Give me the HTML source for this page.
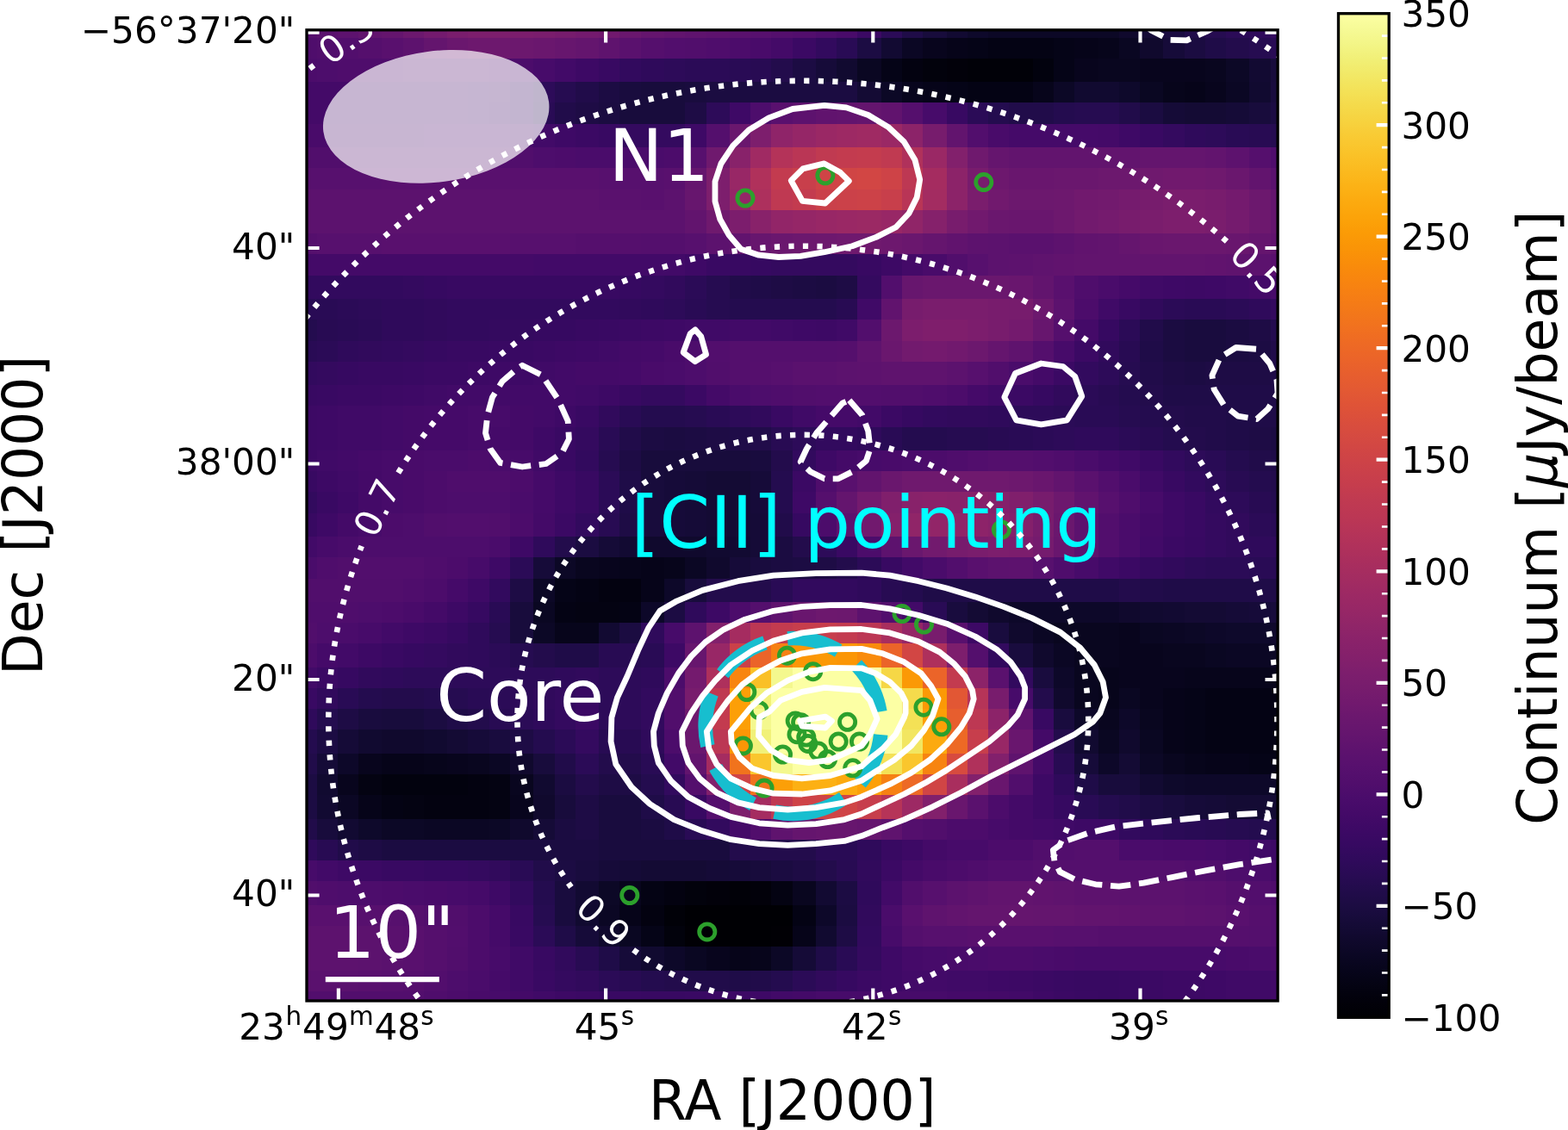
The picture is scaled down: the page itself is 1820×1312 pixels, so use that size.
<!DOCTYPE html>
<html lang="en"><head><meta charset="utf-8"><title>Continuum map</title>
<style>html,body{margin:0;padding:0;background:#fff}svg{display:block}text{font-family:"DejaVu Sans","Liberation Sans",sans-serif}</style></head><body>
<svg width="1820" height="1312" viewBox="0 0 1820 1312">
<rect width="1820" height="1312" fill="#fff"/>
<defs><clipPath id="ax"><rect x="356" y="34.8" width="1127.1" height="1127.2"/></clipPath>
<linearGradient id="cb" x1="0" y1="1" x2="0" y2="0"><stop offset="0.0000" stop-color="#000004"/><stop offset="0.0156" stop-color="#02010a"/><stop offset="0.0312" stop-color="#040312"/><stop offset="0.0469" stop-color="#07051b"/><stop offset="0.0625" stop-color="#0b0724"/><stop offset="0.0781" stop-color="#10092d"/><stop offset="0.0938" stop-color="#150b37"/><stop offset="0.1094" stop-color="#1b0c41"/><stop offset="0.1250" stop-color="#210c4a"/><stop offset="0.1406" stop-color="#280b53"/><stop offset="0.1562" stop-color="#2f0a5b"/><stop offset="0.1719" stop-color="#360961"/><stop offset="0.1875" stop-color="#3d0965"/><stop offset="0.2031" stop-color="#440a68"/><stop offset="0.2188" stop-color="#4a0c6b"/><stop offset="0.2344" stop-color="#510e6c"/><stop offset="0.2500" stop-color="#57106e"/><stop offset="0.2656" stop-color="#5d126e"/><stop offset="0.2812" stop-color="#64156e"/><stop offset="0.2969" stop-color="#6a176e"/><stop offset="0.3125" stop-color="#71196e"/><stop offset="0.3281" stop-color="#771c6d"/><stop offset="0.3438" stop-color="#7d1e6d"/><stop offset="0.3594" stop-color="#84206b"/><stop offset="0.3750" stop-color="#8a226a"/><stop offset="0.3906" stop-color="#902568"/><stop offset="0.4062" stop-color="#972766"/><stop offset="0.4219" stop-color="#9d2964"/><stop offset="0.4375" stop-color="#a32c61"/><stop offset="0.4531" stop-color="#a92e5e"/><stop offset="0.4688" stop-color="#b0315b"/><stop offset="0.4844" stop-color="#b63458"/><stop offset="0.5000" stop-color="#bc3754"/><stop offset="0.5156" stop-color="#c03a51"/><stop offset="0.5312" stop-color="#c63d4d"/><stop offset="0.5469" stop-color="#cb4149"/><stop offset="0.5625" stop-color="#d04545"/><stop offset="0.5781" stop-color="#d54a41"/><stop offset="0.5938" stop-color="#da4e3c"/><stop offset="0.6094" stop-color="#df5337"/><stop offset="0.6250" stop-color="#e35933"/><stop offset="0.6406" stop-color="#e75e2e"/><stop offset="0.6562" stop-color="#eb6429"/><stop offset="0.6719" stop-color="#ee6a24"/><stop offset="0.6875" stop-color="#f1711f"/><stop offset="0.7031" stop-color="#f37819"/><stop offset="0.7188" stop-color="#f67e14"/><stop offset="0.7344" stop-color="#f8850f"/><stop offset="0.7500" stop-color="#f98c0a"/><stop offset="0.7656" stop-color="#fa9407"/><stop offset="0.7812" stop-color="#fb9b06"/><stop offset="0.7969" stop-color="#fca309"/><stop offset="0.8125" stop-color="#fcaa0f"/><stop offset="0.8281" stop-color="#fcb216"/><stop offset="0.8438" stop-color="#fbba1f"/><stop offset="0.8594" stop-color="#fac228"/><stop offset="0.8750" stop-color="#f9c932"/><stop offset="0.8906" stop-color="#f7d13d"/><stop offset="0.9062" stop-color="#f5d949"/><stop offset="0.9219" stop-color="#f4e156"/><stop offset="0.9375" stop-color="#f2e865"/><stop offset="0.9531" stop-color="#f1ef75"/><stop offset="0.9688" stop-color="#f3f586"/><stop offset="0.9844" stop-color="#f6fa96"/><stop offset="1.0000" stop-color="#fcffa4"/></linearGradient></defs>
<g clip-path="url(#ax)">
<g shape-rendering="crispEdges">
<rect x="340.26" y="19.38" width="27.90" height="24.87" fill="#550f6d"/>
<rect x="367.56" y="19.38" width="24.87" height="24.87" fill="#5a116e"/>
<rect x="391.82" y="19.38" width="24.87" height="24.87" fill="#5d126e"/>
<rect x="416.09" y="19.38" width="27.90" height="24.87" fill="#62146e"/>
<rect x="443.39" y="19.38" width="24.87" height="24.87" fill="#65156e"/>
<rect x="467.66" y="19.38" width="24.87" height="24.87" fill="#6c186e"/>
<rect x="491.92" y="19.38" width="27.90" height="24.87" fill="#741a6e"/>
<rect x="519.22" y="19.38" width="24.87" height="24.87" fill="#7a1d6d"/>
<rect x="543.49" y="19.38" width="49.13" height="24.87" fill="#7d1e6d"/>
<rect x="592.02" y="19.38" width="27.90" height="24.87" fill="#7c1d6d"/>
<rect x="619.32" y="19.38" width="24.87" height="24.87" fill="#7a1d6d"/>
<rect x="643.59" y="19.38" width="24.87" height="24.87" fill="#771c6d"/>
<rect x="667.86" y="19.38" width="27.90" height="24.87" fill="#741a6e"/>
<rect x="695.16" y="19.38" width="24.87" height="24.87" fill="#71196e"/>
<rect x="719.42" y="19.38" width="24.87" height="24.87" fill="#6a176e"/>
<rect x="743.69" y="19.38" width="27.90" height="24.87" fill="#65156e"/>
<rect x="770.99" y="19.38" width="24.87" height="24.87" fill="#62146e"/>
<rect x="795.26" y="19.38" width="24.87" height="24.87" fill="#5f136e"/>
<rect x="819.52" y="19.38" width="27.58" height="24.87" fill="#5d126e"/>
<rect x="846.50" y="19.38" width="25.19" height="24.87" fill="#5a116e"/>
<rect x="871.09" y="19.38" width="24.87" height="24.87" fill="#57106e"/>
<rect x="895.36" y="19.38" width="24.87" height="24.87" fill="#540f6d"/>
<rect x="919.62" y="19.38" width="27.90" height="24.87" fill="#520e6d"/>
<rect x="946.92" y="19.38" width="24.87" height="24.87" fill="#4d0d6c"/>
<rect x="971.19" y="19.38" width="24.87" height="24.87" fill="#490b6a"/>
<rect x="995.46" y="19.38" width="27.90" height="24.87" fill="#3b0964"/>
<rect x="1022.76" y="19.38" width="24.87" height="24.87" fill="#2b0b57"/>
<rect x="1047.02" y="19.38" width="24.87" height="24.87" fill="#1f0c48"/>
<rect x="1071.29" y="19.38" width="27.90" height="24.87" fill="#180c3c"/>
<rect x="1098.59" y="19.38" width="24.87" height="24.87" fill="#120a32"/>
<rect x="1122.86" y="19.38" width="24.87" height="24.87" fill="#0e092b"/>
<rect x="1147.12" y="19.38" width="152.27" height="24.87" fill="#0c0826"/>
<rect x="1298.79" y="19.38" width="24.87" height="24.87" fill="#10092d"/>
<rect x="1323.06" y="19.38" width="27.90" height="24.87" fill="#150b37"/>
<rect x="1350.36" y="19.38" width="24.87" height="24.87" fill="#1b0c41"/>
<rect x="1374.62" y="19.38" width="24.87" height="24.87" fill="#210c4a"/>
<rect x="1398.89" y="19.38" width="24.87" height="24.87" fill="#260c51"/>
<rect x="1423.16" y="19.38" width="27.90" height="24.87" fill="#2b0b57"/>
<rect x="1450.46" y="19.38" width="24.87" height="24.87" fill="#2f0a5b"/>
<rect x="1474.72" y="19.38" width="24.87" height="24.87" fill="#340a5f"/>
<rect x="340.26" y="43.65" width="27.90" height="24.87" fill="#4f0d6c"/>
<rect x="367.56" y="43.65" width="24.87" height="24.87" fill="#510e6c"/>
<rect x="391.82" y="43.65" width="24.87" height="24.87" fill="#520e6d"/>
<rect x="416.09" y="43.65" width="27.90" height="24.87" fill="#550f6d"/>
<rect x="443.39" y="43.65" width="24.87" height="24.87" fill="#59106e"/>
<rect x="467.66" y="43.65" width="24.87" height="24.87" fill="#5d126e"/>
<rect x="491.92" y="43.65" width="27.90" height="24.87" fill="#64156e"/>
<rect x="519.22" y="43.65" width="24.87" height="24.87" fill="#6a176e"/>
<rect x="543.49" y="43.65" width="49.13" height="24.87" fill="#6d186e"/>
<rect x="592.02" y="43.65" width="27.90" height="24.87" fill="#6c186e"/>
<rect x="619.32" y="43.65" width="24.87" height="24.87" fill="#6a176e"/>
<rect x="643.59" y="43.65" width="24.87" height="24.87" fill="#67166e"/>
<rect x="667.86" y="43.65" width="27.90" height="24.87" fill="#64156e"/>
<rect x="695.16" y="43.65" width="24.87" height="24.87" fill="#5f136e"/>
<rect x="719.42" y="43.65" width="24.87" height="24.87" fill="#5a116e"/>
<rect x="743.69" y="43.65" width="27.90" height="24.87" fill="#550f6d"/>
<rect x="770.99" y="43.65" width="24.87" height="24.87" fill="#520e6d"/>
<rect x="795.26" y="43.65" width="24.87" height="24.87" fill="#510e6c"/>
<rect x="819.52" y="43.65" width="27.58" height="24.87" fill="#4f0d6c"/>
<rect x="846.50" y="43.65" width="25.19" height="24.87" fill="#4c0c6b"/>
<rect x="871.09" y="43.65" width="24.87" height="24.87" fill="#490b6a"/>
<rect x="895.36" y="43.65" width="24.87" height="24.87" fill="#440a68"/>
<rect x="919.62" y="43.65" width="27.90" height="24.87" fill="#3b0964"/>
<rect x="946.92" y="43.65" width="24.87" height="24.87" fill="#320a5e"/>
<rect x="971.19" y="43.65" width="24.87" height="24.87" fill="#290b55"/>
<rect x="995.46" y="43.65" width="27.90" height="24.87" fill="#1c0c43"/>
<rect x="1022.76" y="43.65" width="24.87" height="24.87" fill="#120a32"/>
<rect x="1047.02" y="43.65" width="24.87" height="24.87" fill="#0b0724"/>
<rect x="1071.29" y="43.65" width="27.90" height="24.87" fill="#08051d"/>
<rect x="1098.59" y="43.65" width="24.87" height="24.87" fill="#060419"/>
<rect x="1122.86" y="43.65" width="24.87" height="24.87" fill="#050417"/>
<rect x="1147.12" y="43.65" width="76.43" height="24.87" fill="#040314"/>
<rect x="1222.96" y="43.65" width="24.87" height="24.87" fill="#050417"/>
<rect x="1247.22" y="43.65" width="27.90" height="24.87" fill="#060419"/>
<rect x="1274.52" y="43.65" width="24.87" height="24.87" fill="#07051b"/>
<rect x="1298.79" y="43.65" width="24.87" height="24.87" fill="#0a0722"/>
<rect x="1323.06" y="43.65" width="27.90" height="24.87" fill="#10092d"/>
<rect x="1350.36" y="43.65" width="24.87" height="24.87" fill="#160b39"/>
<rect x="1374.62" y="43.65" width="24.87" height="24.87" fill="#1b0c41"/>
<rect x="1398.89" y="43.65" width="24.87" height="24.87" fill="#1f0c48"/>
<rect x="1423.16" y="43.65" width="27.90" height="24.87" fill="#230c4c"/>
<rect x="1450.46" y="43.65" width="24.87" height="24.87" fill="#260c51"/>
<rect x="1474.72" y="43.65" width="24.87" height="24.87" fill="#290b55"/>
<rect x="340.26" y="67.91" width="27.90" height="27.90" fill="#4c0c6b"/>
<rect x="367.56" y="67.91" width="24.87" height="27.90" fill="#4d0d6c"/>
<rect x="391.82" y="67.91" width="76.43" height="27.90" fill="#4f0d6c"/>
<rect x="467.66" y="67.91" width="100.70" height="27.90" fill="#510e6c"/>
<rect x="567.76" y="67.91" width="24.87" height="27.90" fill="#4f0d6c"/>
<rect x="592.02" y="67.91" width="27.90" height="27.90" fill="#4c0c6b"/>
<rect x="619.32" y="67.91" width="24.87" height="27.90" fill="#470b6a"/>
<rect x="643.59" y="67.91" width="24.87" height="27.90" fill="#420a68"/>
<rect x="667.86" y="67.91" width="27.90" height="27.90" fill="#3d0965"/>
<rect x="695.16" y="67.91" width="24.87" height="27.90" fill="#380962"/>
<rect x="719.42" y="67.91" width="24.87" height="27.90" fill="#320a5e"/>
<rect x="743.69" y="67.91" width="27.90" height="27.90" fill="#2f0a5b"/>
<rect x="770.99" y="67.91" width="24.87" height="27.90" fill="#2d0b59"/>
<rect x="795.26" y="67.91" width="51.84" height="27.90" fill="#2b0b57"/>
<rect x="846.50" y="67.91" width="25.19" height="27.90" fill="#290b55"/>
<rect x="871.09" y="67.91" width="24.87" height="27.90" fill="#280b53"/>
<rect x="895.36" y="67.91" width="24.87" height="27.90" fill="#230c4c"/>
<rect x="919.62" y="67.91" width="27.90" height="27.90" fill="#1c0c43"/>
<rect x="946.92" y="67.91" width="24.87" height="27.90" fill="#160b39"/>
<rect x="971.19" y="67.91" width="24.87" height="27.90" fill="#110a30"/>
<rect x="995.46" y="67.91" width="27.90" height="27.90" fill="#0a0722"/>
<rect x="1022.76" y="67.91" width="24.87" height="27.90" fill="#050417"/>
<rect x="1047.02" y="67.91" width="24.87" height="27.90" fill="#030210"/>
<rect x="1071.29" y="67.91" width="27.90" height="27.90" fill="#02020c"/>
<rect x="1098.59" y="67.91" width="24.87" height="27.90" fill="#02010a"/>
<rect x="1122.86" y="67.91" width="76.43" height="27.90" fill="#010108"/>
<rect x="1198.69" y="67.91" width="24.87" height="27.90" fill="#02020e"/>
<rect x="1222.96" y="67.91" width="24.87" height="27.90" fill="#050417"/>
<rect x="1247.22" y="67.91" width="27.90" height="27.90" fill="#08051d"/>
<rect x="1274.52" y="67.91" width="49.13" height="27.90" fill="#09061f"/>
<rect x="1323.06" y="67.91" width="76.43" height="27.90" fill="#08051d"/>
<rect x="1398.89" y="67.91" width="24.87" height="27.90" fill="#09061f"/>
<rect x="1423.16" y="67.91" width="27.90" height="27.90" fill="#0c0826"/>
<rect x="1450.46" y="67.91" width="24.87" height="27.90" fill="#120a32"/>
<rect x="1474.72" y="67.91" width="24.87" height="27.90" fill="#180c3c"/>
<rect x="340.26" y="95.21" width="203.83" height="24.87" fill="#440a68"/>
<rect x="543.49" y="95.21" width="24.87" height="24.87" fill="#420a68"/>
<rect x="567.76" y="95.21" width="24.87" height="24.87" fill="#400a67"/>
<rect x="592.02" y="95.21" width="27.90" height="24.87" fill="#380962"/>
<rect x="619.32" y="95.21" width="24.87" height="24.87" fill="#2d0b59"/>
<rect x="643.59" y="95.21" width="24.87" height="24.87" fill="#260c51"/>
<rect x="667.86" y="95.21" width="27.90" height="24.87" fill="#210c4a"/>
<rect x="695.16" y="95.21" width="24.87" height="24.87" fill="#1c0c43"/>
<rect x="719.42" y="95.21" width="24.87" height="24.87" fill="#190c3e"/>
<rect x="743.69" y="95.21" width="52.17" height="24.87" fill="#180c3c"/>
<rect x="795.26" y="95.21" width="24.87" height="24.87" fill="#190c3e"/>
<rect x="819.52" y="95.21" width="176.53" height="24.87" fill="#1b0c41"/>
<rect x="995.46" y="95.21" width="27.90" height="24.87" fill="#140b34"/>
<rect x="1022.76" y="95.21" width="24.87" height="24.87" fill="#0c0826"/>
<rect x="1047.02" y="95.21" width="24.87" height="24.87" fill="#08051d"/>
<rect x="1071.29" y="95.21" width="27.90" height="24.87" fill="#060419"/>
<rect x="1098.59" y="95.21" width="24.87" height="24.87" fill="#050417"/>
<rect x="1122.86" y="95.21" width="76.43" height="24.87" fill="#040314"/>
<rect x="1198.69" y="95.21" width="24.87" height="24.87" fill="#07051b"/>
<rect x="1222.96" y="95.21" width="24.87" height="24.87" fill="#0c0826"/>
<rect x="1247.22" y="95.21" width="52.17" height="24.87" fill="#110a30"/>
<rect x="1298.79" y="95.21" width="24.87" height="24.87" fill="#0e092b"/>
<rect x="1323.06" y="95.21" width="27.90" height="24.87" fill="#0a0722"/>
<rect x="1350.36" y="95.21" width="24.87" height="24.87" fill="#07051b"/>
<rect x="1374.62" y="95.21" width="24.87" height="24.87" fill="#060419"/>
<rect x="1398.89" y="95.21" width="24.87" height="24.87" fill="#08051d"/>
<rect x="1423.16" y="95.21" width="27.90" height="24.87" fill="#0b0724"/>
<rect x="1450.46" y="95.21" width="24.87" height="24.87" fill="#110a30"/>
<rect x="1474.72" y="95.21" width="24.87" height="24.87" fill="#190c3e"/>
<rect x="340.26" y="119.48" width="203.83" height="24.87" fill="#440a68"/>
<rect x="543.49" y="119.48" width="24.87" height="24.87" fill="#420a68"/>
<rect x="567.76" y="119.48" width="24.87" height="24.87" fill="#3e0966"/>
<rect x="592.02" y="119.48" width="27.90" height="24.87" fill="#360961"/>
<rect x="619.32" y="119.48" width="24.87" height="24.87" fill="#290b55"/>
<rect x="643.59" y="119.48" width="24.87" height="24.87" fill="#210c4a"/>
<rect x="667.86" y="119.48" width="27.90" height="24.87" fill="#1e0c45"/>
<rect x="695.16" y="119.48" width="24.87" height="24.87" fill="#1b0c41"/>
<rect x="719.42" y="119.48" width="76.43" height="24.87" fill="#180c3c"/>
<rect x="795.26" y="119.48" width="24.87" height="24.87" fill="#1e0c45"/>
<rect x="819.52" y="119.48" width="27.58" height="24.87" fill="#2d0b59"/>
<rect x="846.50" y="119.48" width="25.19" height="24.87" fill="#3e0966"/>
<rect x="871.09" y="119.48" width="24.87" height="24.87" fill="#4d0d6c"/>
<rect x="895.36" y="119.48" width="24.87" height="24.87" fill="#59106e"/>
<rect x="919.62" y="119.48" width="27.90" height="24.87" fill="#5d126e"/>
<rect x="946.92" y="119.48" width="24.87" height="24.87" fill="#61136e"/>
<rect x="971.19" y="119.48" width="24.87" height="24.87" fill="#62146e"/>
<rect x="995.46" y="119.48" width="27.90" height="24.87" fill="#64156e"/>
<rect x="1022.76" y="119.48" width="24.87" height="24.87" fill="#61136e"/>
<rect x="1047.02" y="119.48" width="24.87" height="24.87" fill="#550f6d"/>
<rect x="1071.29" y="119.48" width="27.90" height="24.87" fill="#470b6a"/>
<rect x="1098.59" y="119.48" width="24.87" height="24.87" fill="#380962"/>
<rect x="1122.86" y="119.48" width="24.87" height="24.87" fill="#2b0b57"/>
<rect x="1147.12" y="119.48" width="24.87" height="24.87" fill="#240c4f"/>
<rect x="1171.39" y="119.48" width="52.17" height="24.87" fill="#210c4a"/>
<rect x="1222.96" y="119.48" width="24.87" height="24.87" fill="#240c4f"/>
<rect x="1247.22" y="119.48" width="52.17" height="24.87" fill="#260c51"/>
<rect x="1298.79" y="119.48" width="24.87" height="24.87" fill="#210c4a"/>
<rect x="1323.06" y="119.48" width="27.90" height="24.87" fill="#1b0c41"/>
<rect x="1350.36" y="119.48" width="24.87" height="24.87" fill="#150b37"/>
<rect x="1374.62" y="119.48" width="49.13" height="24.87" fill="#140b34"/>
<rect x="1423.16" y="119.48" width="27.90" height="24.87" fill="#150b37"/>
<rect x="1450.46" y="119.48" width="24.87" height="24.87" fill="#180c3c"/>
<rect x="1474.72" y="119.48" width="24.87" height="24.87" fill="#1c0c43"/>
<rect x="340.26" y="143.75" width="152.27" height="27.90" fill="#490b6a"/>
<rect x="491.92" y="143.75" width="52.17" height="27.90" fill="#4a0c6b"/>
<rect x="543.49" y="143.75" width="24.87" height="27.90" fill="#4c0c6b"/>
<rect x="567.76" y="143.75" width="24.87" height="27.90" fill="#4a0c6b"/>
<rect x="592.02" y="143.75" width="27.90" height="27.90" fill="#470b6a"/>
<rect x="619.32" y="143.75" width="24.87" height="27.90" fill="#420a68"/>
<rect x="643.59" y="143.75" width="24.87" height="27.90" fill="#3e0966"/>
<rect x="667.86" y="143.75" width="27.90" height="27.90" fill="#3b0964"/>
<rect x="695.16" y="143.75" width="24.87" height="27.90" fill="#380962"/>
<rect x="719.42" y="143.75" width="76.43" height="27.90" fill="#340a5f"/>
<rect x="795.26" y="143.75" width="24.87" height="27.90" fill="#3e0966"/>
<rect x="819.52" y="143.75" width="27.58" height="27.90" fill="#540f6d"/>
<rect x="846.50" y="143.75" width="25.19" height="27.90" fill="#6a176e"/>
<rect x="871.09" y="143.75" width="24.87" height="27.90" fill="#7d1e6d"/>
<rect x="895.36" y="143.75" width="24.87" height="27.90" fill="#8f2469"/>
<rect x="919.62" y="143.75" width="27.90" height="27.90" fill="#952667"/>
<rect x="946.92" y="143.75" width="24.87" height="27.90" fill="#9a2865"/>
<rect x="971.19" y="143.75" width="24.87" height="27.90" fill="#9d2964"/>
<rect x="995.46" y="143.75" width="27.90" height="27.90" fill="#9f2a63"/>
<rect x="1022.76" y="143.75" width="24.87" height="27.90" fill="#9a2865"/>
<rect x="1047.02" y="143.75" width="24.87" height="27.90" fill="#8c2369"/>
<rect x="1071.29" y="143.75" width="27.90" height="27.90" fill="#771c6d"/>
<rect x="1098.59" y="143.75" width="24.87" height="27.90" fill="#62146e"/>
<rect x="1122.86" y="143.75" width="24.87" height="27.90" fill="#520e6d"/>
<rect x="1147.12" y="143.75" width="24.87" height="27.90" fill="#490b6a"/>
<rect x="1171.39" y="143.75" width="103.73" height="27.90" fill="#450a69"/>
<rect x="1274.52" y="143.75" width="24.87" height="27.90" fill="#440a68"/>
<rect x="1298.79" y="143.75" width="24.87" height="27.90" fill="#3e0966"/>
<rect x="1323.06" y="143.75" width="27.90" height="27.90" fill="#390963"/>
<rect x="1350.36" y="143.75" width="24.87" height="27.90" fill="#340a5f"/>
<rect x="1374.62" y="143.75" width="24.87" height="27.90" fill="#2f0a5b"/>
<rect x="1398.89" y="143.75" width="24.87" height="27.90" fill="#2d0b59"/>
<rect x="1423.16" y="143.75" width="27.90" height="27.90" fill="#290b55"/>
<rect x="1450.46" y="143.75" width="24.87" height="27.90" fill="#280b53"/>
<rect x="1474.72" y="143.75" width="24.87" height="27.90" fill="#260c51"/>
<rect x="340.26" y="171.05" width="179.57" height="24.87" fill="#510e6c"/>
<rect x="519.22" y="171.05" width="73.40" height="24.87" fill="#520e6d"/>
<rect x="592.02" y="171.05" width="27.90" height="24.87" fill="#510e6c"/>
<rect x="619.32" y="171.05" width="24.87" height="24.87" fill="#4d0d6c"/>
<rect x="643.59" y="171.05" width="24.87" height="24.87" fill="#4c0c6b"/>
<rect x="667.86" y="171.05" width="103.73" height="24.87" fill="#4a0c6b"/>
<rect x="770.99" y="171.05" width="24.87" height="24.87" fill="#4c0c6b"/>
<rect x="795.26" y="171.05" width="24.87" height="24.87" fill="#57106e"/>
<rect x="819.52" y="171.05" width="27.58" height="24.87" fill="#6f196e"/>
<rect x="846.50" y="171.05" width="25.19" height="24.87" fill="#88226a"/>
<rect x="871.09" y="171.05" width="24.87" height="24.87" fill="#a02a63"/>
<rect x="895.36" y="171.05" width="24.87" height="24.87" fill="#b43359"/>
<rect x="919.62" y="171.05" width="27.90" height="24.87" fill="#ba3655"/>
<rect x="946.92" y="171.05" width="24.87" height="24.87" fill="#c03a51"/>
<rect x="971.19" y="171.05" width="24.87" height="24.87" fill="#c33b4f"/>
<rect x="995.46" y="171.05" width="27.90" height="24.87" fill="#c43c4e"/>
<rect x="1022.76" y="171.05" width="24.87" height="24.87" fill="#c03a51"/>
<rect x="1047.02" y="171.05" width="24.87" height="24.87" fill="#b0315b"/>
<rect x="1071.29" y="171.05" width="27.90" height="24.87" fill="#9a2865"/>
<rect x="1098.59" y="171.05" width="24.87" height="24.87" fill="#82206c"/>
<rect x="1122.86" y="171.05" width="24.87" height="24.87" fill="#6f196e"/>
<rect x="1147.12" y="171.05" width="24.87" height="24.87" fill="#65156e"/>
<rect x="1171.39" y="171.05" width="152.27" height="24.87" fill="#62146e"/>
<rect x="1323.06" y="171.05" width="76.43" height="24.87" fill="#64156e"/>
<rect x="1398.89" y="171.05" width="24.87" height="24.87" fill="#62146e"/>
<rect x="1423.16" y="171.05" width="27.90" height="24.87" fill="#5d126e"/>
<rect x="1450.46" y="171.05" width="24.87" height="24.87" fill="#550f6d"/>
<rect x="1474.72" y="171.05" width="24.87" height="24.87" fill="#4f0d6c"/>
<rect x="340.26" y="195.31" width="103.73" height="24.87" fill="#57106e"/>
<rect x="443.39" y="195.31" width="252.37" height="24.87" fill="#59106e"/>
<rect x="695.16" y="195.31" width="76.43" height="24.87" fill="#57106e"/>
<rect x="770.99" y="195.31" width="24.87" height="24.87" fill="#59106e"/>
<rect x="795.26" y="195.31" width="24.87" height="24.87" fill="#65156e"/>
<rect x="819.52" y="195.31" width="27.58" height="24.87" fill="#7d1e6d"/>
<rect x="846.50" y="195.31" width="25.19" height="24.87" fill="#982766"/>
<rect x="871.09" y="195.31" width="24.87" height="24.87" fill="#b0315b"/>
<rect x="895.36" y="195.31" width="24.87" height="24.87" fill="#c33b4f"/>
<rect x="919.62" y="195.31" width="27.90" height="24.87" fill="#c83f4b"/>
<rect x="946.92" y="195.31" width="24.87" height="24.87" fill="#cf4446"/>
<rect x="971.19" y="195.31" width="24.87" height="24.87" fill="#d04545"/>
<rect x="995.46" y="195.31" width="27.90" height="24.87" fill="#d24644"/>
<rect x="1022.76" y="195.31" width="24.87" height="24.87" fill="#ce4347"/>
<rect x="1047.02" y="195.31" width="24.87" height="24.87" fill="#bd3853"/>
<rect x="1071.29" y="195.31" width="27.90" height="24.87" fill="#a52c60"/>
<rect x="1098.59" y="195.31" width="24.87" height="24.87" fill="#8c2369"/>
<rect x="1122.86" y="195.31" width="24.87" height="24.87" fill="#781c6d"/>
<rect x="1147.12" y="195.31" width="24.87" height="24.87" fill="#6d186e"/>
<rect x="1171.39" y="195.31" width="52.17" height="24.87" fill="#69166e"/>
<rect x="1222.96" y="195.31" width="52.17" height="24.87" fill="#6a176e"/>
<rect x="1274.52" y="195.31" width="49.13" height="24.87" fill="#6c186e"/>
<rect x="1323.06" y="195.31" width="27.90" height="24.87" fill="#6f196e"/>
<rect x="1350.36" y="195.31" width="49.13" height="24.87" fill="#71196e"/>
<rect x="1398.89" y="195.31" width="24.87" height="24.87" fill="#6f196e"/>
<rect x="1423.16" y="195.31" width="27.90" height="24.87" fill="#6a176e"/>
<rect x="1450.46" y="195.31" width="24.87" height="24.87" fill="#62146e"/>
<rect x="1474.72" y="195.31" width="24.87" height="24.87" fill="#5a116e"/>
<rect x="340.26" y="219.58" width="355.50" height="24.87" fill="#5c126e"/>
<rect x="695.16" y="219.58" width="49.13" height="24.87" fill="#5a116e"/>
<rect x="743.69" y="219.58" width="27.90" height="24.87" fill="#59106e"/>
<rect x="770.99" y="219.58" width="24.87" height="24.87" fill="#5c126e"/>
<rect x="795.26" y="219.58" width="24.87" height="24.87" fill="#67166e"/>
<rect x="819.52" y="219.58" width="27.58" height="24.87" fill="#7d1e6d"/>
<rect x="846.50" y="219.58" width="25.19" height="24.87" fill="#952667"/>
<rect x="871.09" y="219.58" width="24.87" height="24.87" fill="#ad305d"/>
<rect x="895.36" y="219.58" width="24.87" height="24.87" fill="#bf3952"/>
<rect x="919.62" y="219.58" width="27.90" height="24.87" fill="#c33b4f"/>
<rect x="946.92" y="219.58" width="24.87" height="24.87" fill="#ca404a"/>
<rect x="971.19" y="219.58" width="24.87" height="24.87" fill="#cb4149"/>
<rect x="995.46" y="219.58" width="27.90" height="24.87" fill="#cc4248"/>
<rect x="1022.76" y="219.58" width="24.87" height="24.87" fill="#c83f4b"/>
<rect x="1047.02" y="219.58" width="24.87" height="24.87" fill="#b93556"/>
<rect x="1071.29" y="219.58" width="27.90" height="24.87" fill="#a32c61"/>
<rect x="1098.59" y="219.58" width="24.87" height="24.87" fill="#8c2369"/>
<rect x="1122.86" y="219.58" width="24.87" height="24.87" fill="#7a1d6d"/>
<rect x="1147.12" y="219.58" width="24.87" height="24.87" fill="#71196e"/>
<rect x="1171.39" y="219.58" width="52.17" height="24.87" fill="#6c186e"/>
<rect x="1222.96" y="219.58" width="24.87" height="24.87" fill="#6d186e"/>
<rect x="1247.22" y="219.58" width="27.90" height="24.87" fill="#71196e"/>
<rect x="1274.52" y="219.58" width="24.87" height="24.87" fill="#721a6e"/>
<rect x="1298.79" y="219.58" width="24.87" height="24.87" fill="#751b6e"/>
<rect x="1323.06" y="219.58" width="27.90" height="24.87" fill="#771c6d"/>
<rect x="1350.36" y="219.58" width="49.13" height="24.87" fill="#7a1d6d"/>
<rect x="1398.89" y="219.58" width="24.87" height="24.87" fill="#781c6d"/>
<rect x="1423.16" y="219.58" width="27.90" height="24.87" fill="#741a6e"/>
<rect x="1450.46" y="219.58" width="24.87" height="24.87" fill="#6c186e"/>
<rect x="1474.72" y="219.58" width="24.87" height="24.87" fill="#64156e"/>
<rect x="340.26" y="243.85" width="455.60" height="27.90" fill="#5c126e"/>
<rect x="795.26" y="243.85" width="24.87" height="27.90" fill="#62146e"/>
<rect x="819.52" y="243.85" width="27.58" height="27.90" fill="#6f196e"/>
<rect x="846.50" y="243.85" width="25.19" height="27.90" fill="#7c1d6d"/>
<rect x="871.09" y="243.85" width="24.87" height="27.90" fill="#88226a"/>
<rect x="895.36" y="243.85" width="24.87" height="27.90" fill="#922568"/>
<rect x="919.62" y="243.85" width="27.90" height="27.90" fill="#952667"/>
<rect x="946.92" y="243.85" width="24.87" height="27.90" fill="#982766"/>
<rect x="971.19" y="243.85" width="24.87" height="27.90" fill="#9a2865"/>
<rect x="995.46" y="243.85" width="27.90" height="27.90" fill="#9b2964"/>
<rect x="1022.76" y="243.85" width="24.87" height="27.90" fill="#982766"/>
<rect x="1047.02" y="243.85" width="24.87" height="27.90" fill="#902568"/>
<rect x="1071.29" y="243.85" width="27.90" height="27.90" fill="#85216b"/>
<rect x="1098.59" y="243.85" width="24.87" height="27.90" fill="#781c6d"/>
<rect x="1122.86" y="243.85" width="24.87" height="27.90" fill="#71196e"/>
<rect x="1147.12" y="243.85" width="24.87" height="27.90" fill="#6a176e"/>
<rect x="1171.39" y="243.85" width="52.17" height="27.90" fill="#69166e"/>
<rect x="1222.96" y="243.85" width="24.87" height="27.90" fill="#6d186e"/>
<rect x="1247.22" y="243.85" width="27.90" height="27.90" fill="#721a6e"/>
<rect x="1274.52" y="243.85" width="24.87" height="27.90" fill="#751b6e"/>
<rect x="1298.79" y="243.85" width="24.87" height="27.90" fill="#781c6d"/>
<rect x="1323.06" y="243.85" width="27.90" height="27.90" fill="#7a1d6d"/>
<rect x="1350.36" y="243.85" width="49.13" height="27.90" fill="#7d1e6d"/>
<rect x="1398.89" y="243.85" width="24.87" height="27.90" fill="#7a1d6d"/>
<rect x="1423.16" y="243.85" width="27.90" height="27.90" fill="#751b6e"/>
<rect x="1450.46" y="243.85" width="24.87" height="27.90" fill="#6d186e"/>
<rect x="1474.72" y="243.85" width="24.87" height="27.90" fill="#65156e"/>
<rect x="340.26" y="271.15" width="27.90" height="24.87" fill="#550f6d"/>
<rect x="367.56" y="271.15" width="76.43" height="24.87" fill="#57106e"/>
<rect x="443.39" y="271.15" width="149.23" height="24.87" fill="#59106e"/>
<rect x="592.02" y="271.15" width="76.43" height="24.87" fill="#57106e"/>
<rect x="667.86" y="271.15" width="76.43" height="24.87" fill="#550f6d"/>
<rect x="743.69" y="271.15" width="52.17" height="24.87" fill="#540f6d"/>
<rect x="795.26" y="271.15" width="24.87" height="24.87" fill="#57106e"/>
<rect x="819.52" y="271.15" width="27.58" height="24.87" fill="#5c126e"/>
<rect x="846.50" y="271.15" width="25.19" height="24.87" fill="#61136e"/>
<rect x="871.09" y="271.15" width="24.87" height="24.87" fill="#67166e"/>
<rect x="895.36" y="271.15" width="24.87" height="24.87" fill="#6a176e"/>
<rect x="919.62" y="271.15" width="27.90" height="24.87" fill="#6c186e"/>
<rect x="946.92" y="271.15" width="24.87" height="24.87" fill="#6d186e"/>
<rect x="971.19" y="271.15" width="52.17" height="24.87" fill="#6f196e"/>
<rect x="1022.76" y="271.15" width="24.87" height="24.87" fill="#6d186e"/>
<rect x="1047.02" y="271.15" width="24.87" height="24.87" fill="#6a176e"/>
<rect x="1071.29" y="271.15" width="27.90" height="24.87" fill="#65156e"/>
<rect x="1098.59" y="271.15" width="24.87" height="24.87" fill="#61136e"/>
<rect x="1122.86" y="271.15" width="24.87" height="24.87" fill="#5d126e"/>
<rect x="1147.12" y="271.15" width="24.87" height="24.87" fill="#5c126e"/>
<rect x="1171.39" y="271.15" width="52.17" height="24.87" fill="#5a116e"/>
<rect x="1222.96" y="271.15" width="24.87" height="24.87" fill="#5d126e"/>
<rect x="1247.22" y="271.15" width="27.90" height="24.87" fill="#61136e"/>
<rect x="1274.52" y="271.15" width="24.87" height="24.87" fill="#62146e"/>
<rect x="1298.79" y="271.15" width="24.87" height="24.87" fill="#65156e"/>
<rect x="1323.06" y="271.15" width="27.90" height="24.87" fill="#69166e"/>
<rect x="1350.36" y="271.15" width="73.40" height="24.87" fill="#6a176e"/>
<rect x="1423.16" y="271.15" width="27.90" height="24.87" fill="#69166e"/>
<rect x="1450.46" y="271.15" width="24.87" height="24.87" fill="#65156e"/>
<rect x="1474.72" y="271.15" width="24.87" height="24.87" fill="#61136e"/>
<rect x="340.26" y="295.41" width="279.67" height="24.87" fill="#440a68"/>
<rect x="619.32" y="295.41" width="176.53" height="24.87" fill="#420a68"/>
<rect x="795.26" y="295.41" width="24.87" height="24.87" fill="#3e0966"/>
<rect x="819.52" y="295.41" width="27.58" height="24.87" fill="#390963"/>
<rect x="846.50" y="295.41" width="25.19" height="24.87" fill="#380962"/>
<rect x="871.09" y="295.41" width="24.87" height="24.87" fill="#360961"/>
<rect x="895.36" y="295.41" width="100.70" height="24.87" fill="#340a5f"/>
<rect x="995.46" y="295.41" width="27.90" height="24.87" fill="#380962"/>
<rect x="1022.76" y="295.41" width="24.87" height="24.87" fill="#3d0965"/>
<rect x="1047.02" y="295.41" width="24.87" height="24.87" fill="#440a68"/>
<rect x="1071.29" y="295.41" width="27.90" height="24.87" fill="#490b6a"/>
<rect x="1098.59" y="295.41" width="24.87" height="24.87" fill="#510e6c"/>
<rect x="1122.86" y="295.41" width="24.87" height="24.87" fill="#57106e"/>
<rect x="1147.12" y="295.41" width="24.87" height="24.87" fill="#5c126e"/>
<rect x="1171.39" y="295.41" width="27.90" height="24.87" fill="#5d126e"/>
<rect x="1198.69" y="295.41" width="24.87" height="24.87" fill="#5f136e"/>
<rect x="1222.96" y="295.41" width="24.87" height="24.87" fill="#61136e"/>
<rect x="1247.22" y="295.41" width="152.27" height="24.87" fill="#62146e"/>
<rect x="1398.89" y="295.41" width="24.87" height="24.87" fill="#61136e"/>
<rect x="1423.16" y="295.41" width="27.90" height="24.87" fill="#5f136e"/>
<rect x="1450.46" y="295.41" width="24.87" height="24.87" fill="#5c126e"/>
<rect x="1474.72" y="295.41" width="24.87" height="24.87" fill="#59106e"/>
<rect x="340.26" y="319.68" width="128.00" height="27.90" fill="#320a5e"/>
<rect x="467.66" y="319.68" width="24.87" height="27.90" fill="#340a5f"/>
<rect x="491.92" y="319.68" width="27.90" height="27.90" fill="#360961"/>
<rect x="519.22" y="319.68" width="200.80" height="27.90" fill="#380962"/>
<rect x="719.42" y="319.68" width="24.87" height="27.90" fill="#360961"/>
<rect x="743.69" y="319.68" width="27.90" height="27.90" fill="#340a5f"/>
<rect x="770.99" y="319.68" width="24.87" height="27.90" fill="#310a5c"/>
<rect x="795.26" y="319.68" width="24.87" height="27.90" fill="#2b0b57"/>
<rect x="819.52" y="319.68" width="27.58" height="27.90" fill="#260c51"/>
<rect x="846.50" y="319.68" width="25.19" height="27.90" fill="#210c4a"/>
<rect x="871.09" y="319.68" width="24.87" height="27.90" fill="#1f0c48"/>
<rect x="895.36" y="319.68" width="24.87" height="27.90" fill="#1e0c45"/>
<rect x="919.62" y="319.68" width="27.90" height="27.90" fill="#1c0c43"/>
<rect x="946.92" y="319.68" width="24.87" height="27.90" fill="#1b0c41"/>
<rect x="971.19" y="319.68" width="24.87" height="27.90" fill="#1e0c45"/>
<rect x="995.46" y="319.68" width="27.90" height="27.90" fill="#340a5f"/>
<rect x="1022.76" y="319.68" width="24.87" height="27.90" fill="#520e6d"/>
<rect x="1047.02" y="319.68" width="24.87" height="27.90" fill="#67166e"/>
<rect x="1071.29" y="319.68" width="100.70" height="27.90" fill="#6a176e"/>
<rect x="1171.39" y="319.68" width="27.90" height="27.90" fill="#69166e"/>
<rect x="1198.69" y="319.68" width="24.87" height="27.90" fill="#62146e"/>
<rect x="1222.96" y="319.68" width="24.87" height="27.90" fill="#59106e"/>
<rect x="1247.22" y="319.68" width="27.90" height="27.90" fill="#4f0d6c"/>
<rect x="1274.52" y="319.68" width="24.87" height="27.90" fill="#4a0c6b"/>
<rect x="1298.79" y="319.68" width="24.87" height="27.90" fill="#450a69"/>
<rect x="1323.06" y="319.68" width="27.90" height="27.90" fill="#400a67"/>
<rect x="1350.36" y="319.68" width="24.87" height="27.90" fill="#3e0966"/>
<rect x="1374.62" y="319.68" width="24.87" height="27.90" fill="#3d0965"/>
<rect x="1398.89" y="319.68" width="24.87" height="27.90" fill="#3e0966"/>
<rect x="1423.16" y="319.68" width="27.90" height="27.90" fill="#400a67"/>
<rect x="1450.46" y="319.68" width="24.87" height="27.90" fill="#440a68"/>
<rect x="1474.72" y="319.68" width="24.87" height="27.90" fill="#470b6a"/>
<rect x="340.26" y="346.98" width="52.17" height="24.87" fill="#290b55"/>
<rect x="391.82" y="346.98" width="24.87" height="24.87" fill="#2b0b57"/>
<rect x="416.09" y="346.98" width="27.90" height="24.87" fill="#2d0b59"/>
<rect x="443.39" y="346.98" width="49.13" height="24.87" fill="#2f0a5b"/>
<rect x="491.92" y="346.98" width="27.90" height="24.87" fill="#310a5c"/>
<rect x="519.22" y="346.98" width="200.80" height="24.87" fill="#320a5e"/>
<rect x="719.42" y="346.98" width="24.87" height="24.87" fill="#310a5c"/>
<rect x="743.69" y="346.98" width="27.90" height="24.87" fill="#2f0a5b"/>
<rect x="770.99" y="346.98" width="24.87" height="24.87" fill="#2d0b59"/>
<rect x="795.26" y="346.98" width="24.87" height="24.87" fill="#290b55"/>
<rect x="819.52" y="346.98" width="27.58" height="24.87" fill="#260c51"/>
<rect x="846.50" y="346.98" width="125.29" height="24.87" fill="#240c4f"/>
<rect x="971.19" y="346.98" width="24.87" height="24.87" fill="#280b53"/>
<rect x="995.46" y="346.98" width="27.90" height="24.87" fill="#400a67"/>
<rect x="1022.76" y="346.98" width="24.87" height="24.87" fill="#61136e"/>
<rect x="1047.02" y="346.98" width="24.87" height="24.87" fill="#771c6d"/>
<rect x="1071.29" y="346.98" width="76.43" height="24.87" fill="#7a1d6d"/>
<rect x="1147.12" y="346.98" width="24.87" height="24.87" fill="#781c6d"/>
<rect x="1171.39" y="346.98" width="27.90" height="24.87" fill="#771c6d"/>
<rect x="1198.69" y="346.98" width="24.87" height="24.87" fill="#6c186e"/>
<rect x="1222.96" y="346.98" width="24.87" height="24.87" fill="#5c126e"/>
<rect x="1247.22" y="346.98" width="27.90" height="24.87" fill="#4c0c6b"/>
<rect x="1274.52" y="346.98" width="24.87" height="24.87" fill="#400a67"/>
<rect x="1298.79" y="346.98" width="24.87" height="24.87" fill="#380962"/>
<rect x="1323.06" y="346.98" width="27.90" height="24.87" fill="#310a5c"/>
<rect x="1350.36" y="346.98" width="24.87" height="24.87" fill="#2b0b57"/>
<rect x="1374.62" y="346.98" width="49.13" height="24.87" fill="#290b55"/>
<rect x="1423.16" y="346.98" width="27.90" height="24.87" fill="#2b0b57"/>
<rect x="1450.46" y="346.98" width="24.87" height="24.87" fill="#2f0a5b"/>
<rect x="1474.72" y="346.98" width="24.87" height="24.87" fill="#340a5f"/>
<rect x="340.26" y="371.25" width="27.90" height="24.87" fill="#240c4f"/>
<rect x="367.56" y="371.25" width="24.87" height="24.87" fill="#280b53"/>
<rect x="391.82" y="371.25" width="24.87" height="24.87" fill="#290b55"/>
<rect x="416.09" y="371.25" width="27.90" height="24.87" fill="#2b0b57"/>
<rect x="443.39" y="371.25" width="49.13" height="24.87" fill="#2f0a5b"/>
<rect x="491.92" y="371.25" width="27.90" height="24.87" fill="#310a5c"/>
<rect x="519.22" y="371.25" width="49.13" height="24.87" fill="#320a5e"/>
<rect x="567.76" y="371.25" width="52.17" height="24.87" fill="#340a5f"/>
<rect x="619.32" y="371.25" width="49.13" height="24.87" fill="#360961"/>
<rect x="667.86" y="371.25" width="27.90" height="24.87" fill="#380962"/>
<rect x="695.16" y="371.25" width="24.87" height="24.87" fill="#390963"/>
<rect x="719.42" y="371.25" width="24.87" height="24.87" fill="#3b0964"/>
<rect x="743.69" y="371.25" width="27.90" height="24.87" fill="#3d0965"/>
<rect x="770.99" y="371.25" width="24.87" height="24.87" fill="#3e0966"/>
<rect x="795.26" y="371.25" width="51.84" height="24.87" fill="#400a67"/>
<rect x="846.50" y="371.25" width="49.46" height="24.87" fill="#420a68"/>
<rect x="895.36" y="371.25" width="24.87" height="24.87" fill="#400a67"/>
<rect x="919.62" y="371.25" width="27.90" height="24.87" fill="#3e0966"/>
<rect x="946.92" y="371.25" width="24.87" height="24.87" fill="#3d0965"/>
<rect x="971.19" y="371.25" width="24.87" height="24.87" fill="#400a67"/>
<rect x="995.46" y="371.25" width="27.90" height="24.87" fill="#520e6d"/>
<rect x="1022.76" y="371.25" width="24.87" height="24.87" fill="#6c186e"/>
<rect x="1047.02" y="371.25" width="24.87" height="24.87" fill="#7c1d6d"/>
<rect x="1071.29" y="371.25" width="52.17" height="24.87" fill="#7f1e6c"/>
<rect x="1122.86" y="371.25" width="24.87" height="24.87" fill="#7c1d6d"/>
<rect x="1147.12" y="371.25" width="24.87" height="24.87" fill="#781c6d"/>
<rect x="1171.39" y="371.25" width="27.90" height="24.87" fill="#741a6e"/>
<rect x="1198.69" y="371.25" width="24.87" height="24.87" fill="#67166e"/>
<rect x="1222.96" y="371.25" width="24.87" height="24.87" fill="#550f6d"/>
<rect x="1247.22" y="371.25" width="27.90" height="24.87" fill="#440a68"/>
<rect x="1274.52" y="371.25" width="24.87" height="24.87" fill="#360961"/>
<rect x="1298.79" y="371.25" width="24.87" height="24.87" fill="#2b0b57"/>
<rect x="1323.06" y="371.25" width="27.90" height="24.87" fill="#210c4a"/>
<rect x="1350.36" y="371.25" width="24.87" height="24.87" fill="#1b0c41"/>
<rect x="1374.62" y="371.25" width="49.13" height="24.87" fill="#190c3e"/>
<rect x="1423.16" y="371.25" width="27.90" height="24.87" fill="#1b0c41"/>
<rect x="1450.46" y="371.25" width="24.87" height="24.87" fill="#1e0c45"/>
<rect x="1474.72" y="371.25" width="24.87" height="24.87" fill="#240c4f"/>
<rect x="340.26" y="395.51" width="27.90" height="24.87" fill="#290b55"/>
<rect x="367.56" y="395.51" width="24.87" height="24.87" fill="#2b0b57"/>
<rect x="391.82" y="395.51" width="24.87" height="24.87" fill="#2f0a5b"/>
<rect x="416.09" y="395.51" width="27.90" height="24.87" fill="#310a5c"/>
<rect x="443.39" y="395.51" width="24.87" height="24.87" fill="#320a5e"/>
<rect x="467.66" y="395.51" width="24.87" height="24.87" fill="#340a5f"/>
<rect x="491.92" y="395.51" width="27.90" height="24.87" fill="#360961"/>
<rect x="519.22" y="395.51" width="49.13" height="24.87" fill="#380962"/>
<rect x="567.76" y="395.51" width="52.17" height="24.87" fill="#390963"/>
<rect x="619.32" y="395.51" width="24.87" height="24.87" fill="#3b0964"/>
<rect x="643.59" y="395.51" width="24.87" height="24.87" fill="#3d0965"/>
<rect x="667.86" y="395.51" width="27.90" height="24.87" fill="#3e0966"/>
<rect x="695.16" y="395.51" width="24.87" height="24.87" fill="#400a67"/>
<rect x="719.42" y="395.51" width="24.87" height="24.87" fill="#440a68"/>
<rect x="743.69" y="395.51" width="27.90" height="24.87" fill="#450a69"/>
<rect x="770.99" y="395.51" width="24.87" height="24.87" fill="#490b6a"/>
<rect x="795.26" y="395.51" width="24.87" height="24.87" fill="#4d0d6c"/>
<rect x="819.52" y="395.51" width="27.58" height="24.87" fill="#520e6d"/>
<rect x="846.50" y="395.51" width="125.29" height="24.87" fill="#540f6d"/>
<rect x="971.19" y="395.51" width="24.87" height="24.87" fill="#550f6d"/>
<rect x="995.46" y="395.51" width="27.90" height="24.87" fill="#5f136e"/>
<rect x="1022.76" y="395.51" width="24.87" height="24.87" fill="#6a176e"/>
<rect x="1047.02" y="395.51" width="24.87" height="24.87" fill="#721a6e"/>
<rect x="1071.29" y="395.51" width="27.90" height="24.87" fill="#741a6e"/>
<rect x="1098.59" y="395.51" width="24.87" height="24.87" fill="#71196e"/>
<rect x="1122.86" y="395.51" width="24.87" height="24.87" fill="#6c186e"/>
<rect x="1147.12" y="395.51" width="24.87" height="24.87" fill="#65156e"/>
<rect x="1171.39" y="395.51" width="27.90" height="24.87" fill="#5f136e"/>
<rect x="1198.69" y="395.51" width="24.87" height="24.87" fill="#540f6d"/>
<rect x="1222.96" y="395.51" width="24.87" height="24.87" fill="#470b6a"/>
<rect x="1247.22" y="395.51" width="27.90" height="24.87" fill="#3b0964"/>
<rect x="1274.52" y="395.51" width="24.87" height="24.87" fill="#310a5c"/>
<rect x="1298.79" y="395.51" width="24.87" height="24.87" fill="#280b53"/>
<rect x="1323.06" y="395.51" width="27.90" height="24.87" fill="#1f0c48"/>
<rect x="1350.36" y="395.51" width="24.87" height="24.87" fill="#1b0c41"/>
<rect x="1374.62" y="395.51" width="49.13" height="24.87" fill="#190c3e"/>
<rect x="1423.16" y="395.51" width="27.90" height="24.87" fill="#1b0c41"/>
<rect x="1450.46" y="395.51" width="24.87" height="24.87" fill="#1c0c43"/>
<rect x="1474.72" y="395.51" width="24.87" height="24.87" fill="#210c4a"/>
<rect x="340.26" y="419.78" width="27.90" height="27.90" fill="#320a5e"/>
<rect x="367.56" y="419.78" width="24.87" height="27.90" fill="#340a5f"/>
<rect x="391.82" y="419.78" width="24.87" height="27.90" fill="#360961"/>
<rect x="416.09" y="419.78" width="52.17" height="27.90" fill="#380962"/>
<rect x="467.66" y="419.78" width="24.87" height="27.90" fill="#390963"/>
<rect x="491.92" y="419.78" width="52.17" height="27.90" fill="#3b0964"/>
<rect x="543.49" y="419.78" width="24.87" height="27.90" fill="#3d0965"/>
<rect x="567.76" y="419.78" width="52.17" height="27.90" fill="#3e0966"/>
<rect x="619.32" y="419.78" width="24.87" height="27.90" fill="#400a67"/>
<rect x="643.59" y="419.78" width="24.87" height="27.90" fill="#420a68"/>
<rect x="667.86" y="419.78" width="52.17" height="27.90" fill="#440a68"/>
<rect x="719.42" y="419.78" width="24.87" height="27.90" fill="#450a69"/>
<rect x="743.69" y="419.78" width="27.90" height="27.90" fill="#490b6a"/>
<rect x="770.99" y="419.78" width="24.87" height="27.90" fill="#4a0c6b"/>
<rect x="795.26" y="419.78" width="24.87" height="27.90" fill="#4d0d6c"/>
<rect x="819.52" y="419.78" width="27.58" height="27.90" fill="#510e6c"/>
<rect x="846.50" y="419.78" width="25.19" height="27.90" fill="#540f6d"/>
<rect x="871.09" y="419.78" width="24.87" height="27.90" fill="#550f6d"/>
<rect x="895.36" y="419.78" width="24.87" height="27.90" fill="#57106e"/>
<rect x="919.62" y="419.78" width="52.17" height="27.90" fill="#5a116e"/>
<rect x="971.19" y="419.78" width="24.87" height="27.90" fill="#5c126e"/>
<rect x="995.46" y="419.78" width="27.90" height="27.90" fill="#5d126e"/>
<rect x="1022.76" y="419.78" width="76.43" height="27.90" fill="#5f136e"/>
<rect x="1098.59" y="419.78" width="24.87" height="27.90" fill="#5c126e"/>
<rect x="1122.86" y="419.78" width="24.87" height="27.90" fill="#57106e"/>
<rect x="1147.12" y="419.78" width="24.87" height="27.90" fill="#510e6c"/>
<rect x="1171.39" y="419.78" width="27.90" height="27.90" fill="#4a0c6b"/>
<rect x="1198.69" y="419.78" width="24.87" height="27.90" fill="#440a68"/>
<rect x="1222.96" y="419.78" width="24.87" height="27.90" fill="#3b0964"/>
<rect x="1247.22" y="419.78" width="27.90" height="27.90" fill="#320a5e"/>
<rect x="1274.52" y="419.78" width="24.87" height="27.90" fill="#2d0b59"/>
<rect x="1298.79" y="419.78" width="24.87" height="27.90" fill="#260c51"/>
<rect x="1323.06" y="419.78" width="27.90" height="27.90" fill="#210c4a"/>
<rect x="1350.36" y="419.78" width="24.87" height="27.90" fill="#1e0c45"/>
<rect x="1374.62" y="419.78" width="24.87" height="27.90" fill="#1c0c43"/>
<rect x="1398.89" y="419.78" width="76.43" height="27.90" fill="#1e0c45"/>
<rect x="1474.72" y="419.78" width="24.87" height="27.90" fill="#1f0c48"/>
<rect x="340.26" y="447.08" width="27.90" height="24.87" fill="#380962"/>
<rect x="367.56" y="447.08" width="24.87" height="24.87" fill="#390963"/>
<rect x="391.82" y="447.08" width="52.17" height="24.87" fill="#3b0964"/>
<rect x="443.39" y="447.08" width="24.87" height="24.87" fill="#3d0965"/>
<rect x="467.66" y="447.08" width="24.87" height="24.87" fill="#3e0966"/>
<rect x="491.92" y="447.08" width="27.90" height="24.87" fill="#400a67"/>
<rect x="519.22" y="447.08" width="149.23" height="24.87" fill="#420a68"/>
<rect x="667.86" y="447.08" width="27.90" height="24.87" fill="#400a67"/>
<rect x="695.16" y="447.08" width="24.87" height="24.87" fill="#3d0965"/>
<rect x="719.42" y="447.08" width="24.87" height="24.87" fill="#380962"/>
<rect x="743.69" y="447.08" width="52.17" height="24.87" fill="#340a5f"/>
<rect x="795.26" y="447.08" width="24.87" height="24.87" fill="#3b0964"/>
<rect x="819.52" y="447.08" width="27.58" height="24.87" fill="#440a68"/>
<rect x="846.50" y="447.08" width="25.19" height="24.87" fill="#4a0c6b"/>
<rect x="871.09" y="447.08" width="24.87" height="24.87" fill="#4d0d6c"/>
<rect x="895.36" y="447.08" width="24.87" height="24.87" fill="#4f0d6c"/>
<rect x="919.62" y="447.08" width="27.90" height="24.87" fill="#510e6c"/>
<rect x="946.92" y="447.08" width="76.43" height="24.87" fill="#520e6d"/>
<rect x="1022.76" y="447.08" width="49.13" height="24.87" fill="#510e6c"/>
<rect x="1071.29" y="447.08" width="27.90" height="24.87" fill="#4f0d6c"/>
<rect x="1098.59" y="447.08" width="24.87" height="24.87" fill="#4c0c6b"/>
<rect x="1122.86" y="447.08" width="24.87" height="24.87" fill="#450a69"/>
<rect x="1147.12" y="447.08" width="24.87" height="24.87" fill="#400a67"/>
<rect x="1171.39" y="447.08" width="27.90" height="24.87" fill="#3b0964"/>
<rect x="1198.69" y="447.08" width="24.87" height="24.87" fill="#360961"/>
<rect x="1222.96" y="447.08" width="24.87" height="24.87" fill="#310a5c"/>
<rect x="1247.22" y="447.08" width="27.90" height="24.87" fill="#2b0b57"/>
<rect x="1274.52" y="447.08" width="24.87" height="24.87" fill="#280b53"/>
<rect x="1298.79" y="447.08" width="24.87" height="24.87" fill="#240c4f"/>
<rect x="1323.06" y="447.08" width="27.90" height="24.87" fill="#230c4c"/>
<rect x="1350.36" y="447.08" width="149.23" height="24.87" fill="#1f0c48"/>
<rect x="340.26" y="471.35" width="27.90" height="24.87" fill="#3d0965"/>
<rect x="367.56" y="471.35" width="24.87" height="24.87" fill="#3e0966"/>
<rect x="391.82" y="471.35" width="52.17" height="24.87" fill="#400a67"/>
<rect x="443.39" y="471.35" width="24.87" height="24.87" fill="#420a68"/>
<rect x="467.66" y="471.35" width="24.87" height="24.87" fill="#440a68"/>
<rect x="491.92" y="471.35" width="52.17" height="24.87" fill="#450a69"/>
<rect x="543.49" y="471.35" width="49.13" height="24.87" fill="#470b6a"/>
<rect x="592.02" y="471.35" width="27.90" height="24.87" fill="#440a68"/>
<rect x="619.32" y="471.35" width="24.87" height="24.87" fill="#420a68"/>
<rect x="643.59" y="471.35" width="24.87" height="24.87" fill="#3e0966"/>
<rect x="667.86" y="471.35" width="27.90" height="24.87" fill="#390963"/>
<rect x="695.16" y="471.35" width="24.87" height="24.87" fill="#310a5c"/>
<rect x="719.42" y="471.35" width="24.87" height="24.87" fill="#290b55"/>
<rect x="743.69" y="471.35" width="52.17" height="24.87" fill="#240c4f"/>
<rect x="795.26" y="471.35" width="24.87" height="24.87" fill="#260c51"/>
<rect x="819.52" y="471.35" width="27.58" height="24.87" fill="#290b55"/>
<rect x="846.50" y="471.35" width="25.19" height="24.87" fill="#2d0b59"/>
<rect x="871.09" y="471.35" width="24.87" height="24.87" fill="#310a5c"/>
<rect x="895.36" y="471.35" width="24.87" height="24.87" fill="#390963"/>
<rect x="919.62" y="471.35" width="27.90" height="24.87" fill="#400a67"/>
<rect x="946.92" y="471.35" width="49.13" height="24.87" fill="#450a69"/>
<rect x="995.46" y="471.35" width="27.90" height="24.87" fill="#420a68"/>
<rect x="1022.76" y="471.35" width="24.87" height="24.87" fill="#3b0964"/>
<rect x="1047.02" y="471.35" width="24.87" height="24.87" fill="#360961"/>
<rect x="1071.29" y="471.35" width="27.90" height="24.87" fill="#320a5e"/>
<rect x="1098.59" y="471.35" width="49.13" height="24.87" fill="#310a5c"/>
<rect x="1147.12" y="471.35" width="24.87" height="24.87" fill="#2f0a5b"/>
<rect x="1171.39" y="471.35" width="52.17" height="24.87" fill="#2d0b59"/>
<rect x="1222.96" y="471.35" width="24.87" height="24.87" fill="#2b0b57"/>
<rect x="1247.22" y="471.35" width="52.17" height="24.87" fill="#290b55"/>
<rect x="1298.79" y="471.35" width="24.87" height="24.87" fill="#260c51"/>
<rect x="1323.06" y="471.35" width="27.90" height="24.87" fill="#240c4f"/>
<rect x="1350.36" y="471.35" width="24.87" height="24.87" fill="#230c4c"/>
<rect x="1374.62" y="471.35" width="49.13" height="24.87" fill="#210c4a"/>
<rect x="1423.16" y="471.35" width="76.43" height="24.87" fill="#1f0c48"/>
<rect x="340.26" y="495.61" width="27.90" height="27.90" fill="#3d0965"/>
<rect x="367.56" y="495.61" width="24.87" height="27.90" fill="#3e0966"/>
<rect x="391.82" y="495.61" width="52.17" height="27.90" fill="#400a67"/>
<rect x="443.39" y="495.61" width="24.87" height="27.90" fill="#420a68"/>
<rect x="467.66" y="495.61" width="24.87" height="27.90" fill="#440a68"/>
<rect x="491.92" y="495.61" width="52.17" height="27.90" fill="#450a69"/>
<rect x="543.49" y="495.61" width="24.87" height="27.90" fill="#470b6a"/>
<rect x="567.76" y="495.61" width="24.87" height="27.90" fill="#450a69"/>
<rect x="592.02" y="495.61" width="27.90" height="27.90" fill="#440a68"/>
<rect x="619.32" y="495.61" width="24.87" height="27.90" fill="#3e0966"/>
<rect x="643.59" y="495.61" width="24.87" height="27.90" fill="#390963"/>
<rect x="667.86" y="495.61" width="27.90" height="27.90" fill="#340a5f"/>
<rect x="695.16" y="495.61" width="24.87" height="27.90" fill="#290b55"/>
<rect x="719.42" y="495.61" width="24.87" height="27.90" fill="#210c4a"/>
<rect x="743.69" y="495.61" width="27.90" height="27.90" fill="#1c0c43"/>
<rect x="770.99" y="495.61" width="24.87" height="27.90" fill="#1b0c41"/>
<rect x="795.26" y="495.61" width="24.87" height="27.90" fill="#1c0c43"/>
<rect x="819.52" y="495.61" width="27.58" height="27.90" fill="#1e0c45"/>
<rect x="846.50" y="495.61" width="25.19" height="27.90" fill="#1f0c48"/>
<rect x="871.09" y="495.61" width="24.87" height="27.90" fill="#210c4a"/>
<rect x="895.36" y="495.61" width="24.87" height="27.90" fill="#280b53"/>
<rect x="919.62" y="495.61" width="27.90" height="27.90" fill="#2d0b59"/>
<rect x="946.92" y="495.61" width="49.13" height="27.90" fill="#320a5e"/>
<rect x="995.46" y="495.61" width="27.90" height="27.90" fill="#2f0a5b"/>
<rect x="1022.76" y="495.61" width="24.87" height="27.90" fill="#290b55"/>
<rect x="1047.02" y="495.61" width="52.17" height="27.90" fill="#240c4f"/>
<rect x="1098.59" y="495.61" width="49.13" height="27.90" fill="#260c51"/>
<rect x="1147.12" y="495.61" width="24.87" height="27.90" fill="#280b53"/>
<rect x="1171.39" y="495.61" width="27.90" height="27.90" fill="#290b55"/>
<rect x="1198.69" y="495.61" width="24.87" height="27.90" fill="#2b0b57"/>
<rect x="1222.96" y="495.61" width="24.87" height="27.90" fill="#2d0b59"/>
<rect x="1247.22" y="495.61" width="52.17" height="27.90" fill="#2f0a5b"/>
<rect x="1298.79" y="495.61" width="24.87" height="27.90" fill="#2b0b57"/>
<rect x="1323.06" y="495.61" width="27.90" height="27.90" fill="#280b53"/>
<rect x="1350.36" y="495.61" width="24.87" height="27.90" fill="#240c4f"/>
<rect x="1374.62" y="495.61" width="24.87" height="27.90" fill="#230c4c"/>
<rect x="1398.89" y="495.61" width="24.87" height="27.90" fill="#210c4a"/>
<rect x="1423.16" y="495.61" width="27.90" height="27.90" fill="#1f0c48"/>
<rect x="1450.46" y="495.61" width="24.87" height="27.90" fill="#1e0c45"/>
<rect x="1474.72" y="495.61" width="24.87" height="27.90" fill="#1c0c43"/>
<rect x="340.26" y="522.91" width="27.90" height="24.87" fill="#3d0965"/>
<rect x="367.56" y="522.91" width="24.87" height="24.87" fill="#400a67"/>
<rect x="391.82" y="522.91" width="24.87" height="24.87" fill="#420a68"/>
<rect x="416.09" y="522.91" width="27.90" height="24.87" fill="#450a69"/>
<rect x="443.39" y="522.91" width="24.87" height="24.87" fill="#470b6a"/>
<rect x="467.66" y="522.91" width="24.87" height="24.87" fill="#490b6a"/>
<rect x="491.92" y="522.91" width="52.17" height="24.87" fill="#4a0c6b"/>
<rect x="543.49" y="522.91" width="24.87" height="24.87" fill="#4c0c6b"/>
<rect x="567.76" y="522.91" width="24.87" height="24.87" fill="#4a0c6b"/>
<rect x="592.02" y="522.91" width="27.90" height="24.87" fill="#470b6a"/>
<rect x="619.32" y="522.91" width="24.87" height="24.87" fill="#400a67"/>
<rect x="643.59" y="522.91" width="24.87" height="24.87" fill="#390963"/>
<rect x="667.86" y="522.91" width="27.90" height="24.87" fill="#320a5e"/>
<rect x="695.16" y="522.91" width="24.87" height="24.87" fill="#260c51"/>
<rect x="719.42" y="522.91" width="24.87" height="24.87" fill="#1e0c45"/>
<rect x="743.69" y="522.91" width="128.00" height="24.87" fill="#180c3c"/>
<rect x="871.09" y="522.91" width="24.87" height="24.87" fill="#190c3e"/>
<rect x="895.36" y="522.91" width="24.87" height="24.87" fill="#230c4c"/>
<rect x="919.62" y="522.91" width="27.90" height="24.87" fill="#320a5e"/>
<rect x="946.92" y="522.91" width="24.87" height="24.87" fill="#3e0966"/>
<rect x="971.19" y="522.91" width="24.87" height="24.87" fill="#440a68"/>
<rect x="995.46" y="522.91" width="27.90" height="24.87" fill="#470b6a"/>
<rect x="1022.76" y="522.91" width="24.87" height="24.87" fill="#490b6a"/>
<rect x="1047.02" y="522.91" width="24.87" height="24.87" fill="#4a0c6b"/>
<rect x="1071.29" y="522.91" width="27.90" height="24.87" fill="#4c0c6b"/>
<rect x="1098.59" y="522.91" width="24.87" height="24.87" fill="#4f0d6c"/>
<rect x="1122.86" y="522.91" width="24.87" height="24.87" fill="#520e6d"/>
<rect x="1147.12" y="522.91" width="52.17" height="24.87" fill="#540f6d"/>
<rect x="1198.69" y="522.91" width="24.87" height="24.87" fill="#520e6d"/>
<rect x="1222.96" y="522.91" width="24.87" height="24.87" fill="#4f0d6c"/>
<rect x="1247.22" y="522.91" width="27.90" height="24.87" fill="#4a0c6b"/>
<rect x="1274.52" y="522.91" width="24.87" height="24.87" fill="#450a69"/>
<rect x="1298.79" y="522.91" width="24.87" height="24.87" fill="#400a67"/>
<rect x="1323.06" y="522.91" width="27.90" height="24.87" fill="#390963"/>
<rect x="1350.36" y="522.91" width="24.87" height="24.87" fill="#320a5e"/>
<rect x="1374.62" y="522.91" width="24.87" height="24.87" fill="#2d0b59"/>
<rect x="1398.89" y="522.91" width="24.87" height="24.87" fill="#290b55"/>
<rect x="1423.16" y="522.91" width="27.90" height="24.87" fill="#240c4f"/>
<rect x="1450.46" y="522.91" width="24.87" height="24.87" fill="#210c4a"/>
<rect x="1474.72" y="522.91" width="24.87" height="24.87" fill="#1f0c48"/>
<rect x="340.26" y="547.18" width="27.90" height="24.87" fill="#380962"/>
<rect x="367.56" y="547.18" width="24.87" height="24.87" fill="#3d0965"/>
<rect x="391.82" y="547.18" width="24.87" height="24.87" fill="#400a67"/>
<rect x="416.09" y="547.18" width="27.90" height="24.87" fill="#440a68"/>
<rect x="443.39" y="547.18" width="24.87" height="24.87" fill="#470b6a"/>
<rect x="467.66" y="547.18" width="24.87" height="24.87" fill="#490b6a"/>
<rect x="491.92" y="547.18" width="27.90" height="24.87" fill="#4c0c6b"/>
<rect x="519.22" y="547.18" width="73.40" height="24.87" fill="#4f0d6c"/>
<rect x="592.02" y="547.18" width="27.90" height="24.87" fill="#4c0c6b"/>
<rect x="619.32" y="547.18" width="24.87" height="24.87" fill="#450a69"/>
<rect x="643.59" y="547.18" width="24.87" height="24.87" fill="#3e0966"/>
<rect x="667.86" y="547.18" width="27.90" height="24.87" fill="#380962"/>
<rect x="695.16" y="547.18" width="24.87" height="24.87" fill="#2b0b57"/>
<rect x="719.42" y="547.18" width="24.87" height="24.87" fill="#1f0c48"/>
<rect x="743.69" y="547.18" width="27.90" height="24.87" fill="#180c3c"/>
<rect x="770.99" y="547.18" width="24.87" height="24.87" fill="#160b39"/>
<rect x="795.26" y="547.18" width="24.87" height="24.87" fill="#150b37"/>
<rect x="819.52" y="547.18" width="52.17" height="24.87" fill="#140b34"/>
<rect x="871.09" y="547.18" width="24.87" height="24.87" fill="#160b39"/>
<rect x="895.36" y="547.18" width="24.87" height="24.87" fill="#240c4f"/>
<rect x="919.62" y="547.18" width="27.90" height="24.87" fill="#3b0964"/>
<rect x="946.92" y="547.18" width="24.87" height="24.87" fill="#4f0d6c"/>
<rect x="971.19" y="547.18" width="24.87" height="24.87" fill="#59106e"/>
<rect x="995.46" y="547.18" width="27.90" height="24.87" fill="#62146e"/>
<rect x="1022.76" y="547.18" width="24.87" height="24.87" fill="#6a176e"/>
<rect x="1047.02" y="547.18" width="124.97" height="24.87" fill="#6f196e"/>
<rect x="1171.39" y="547.18" width="27.90" height="24.87" fill="#6d186e"/>
<rect x="1198.69" y="547.18" width="24.87" height="24.87" fill="#69166e"/>
<rect x="1222.96" y="547.18" width="24.87" height="24.87" fill="#62146e"/>
<rect x="1247.22" y="547.18" width="27.90" height="24.87" fill="#5a116e"/>
<rect x="1274.52" y="547.18" width="24.87" height="24.87" fill="#520e6d"/>
<rect x="1298.79" y="547.18" width="24.87" height="24.87" fill="#4a0c6b"/>
<rect x="1323.06" y="547.18" width="27.90" height="24.87" fill="#400a67"/>
<rect x="1350.36" y="547.18" width="24.87" height="24.87" fill="#380962"/>
<rect x="1374.62" y="547.18" width="24.87" height="24.87" fill="#320a5e"/>
<rect x="1398.89" y="547.18" width="24.87" height="24.87" fill="#2d0b59"/>
<rect x="1423.16" y="547.18" width="27.90" height="24.87" fill="#280b53"/>
<rect x="1450.46" y="547.18" width="24.87" height="24.87" fill="#240c4f"/>
<rect x="1474.72" y="547.18" width="24.87" height="24.87" fill="#230c4c"/>
<rect x="340.26" y="571.45" width="27.90" height="24.87" fill="#320a5e"/>
<rect x="367.56" y="571.45" width="24.87" height="24.87" fill="#390963"/>
<rect x="391.82" y="571.45" width="24.87" height="24.87" fill="#3e0966"/>
<rect x="416.09" y="571.45" width="27.90" height="24.87" fill="#440a68"/>
<rect x="443.39" y="571.45" width="24.87" height="24.87" fill="#470b6a"/>
<rect x="467.66" y="571.45" width="24.87" height="24.87" fill="#490b6a"/>
<rect x="491.92" y="571.45" width="27.90" height="24.87" fill="#4c0c6b"/>
<rect x="519.22" y="571.45" width="73.40" height="24.87" fill="#4d0d6c"/>
<rect x="592.02" y="571.45" width="27.90" height="24.87" fill="#4a0c6b"/>
<rect x="619.32" y="571.45" width="24.87" height="24.87" fill="#450a69"/>
<rect x="643.59" y="571.45" width="24.87" height="24.87" fill="#3e0966"/>
<rect x="667.86" y="571.45" width="27.90" height="24.87" fill="#380962"/>
<rect x="695.16" y="571.45" width="24.87" height="24.87" fill="#2b0b57"/>
<rect x="719.42" y="571.45" width="24.87" height="24.87" fill="#1f0c48"/>
<rect x="743.69" y="571.45" width="27.90" height="24.87" fill="#180c3c"/>
<rect x="770.99" y="571.45" width="24.87" height="24.87" fill="#160b39"/>
<rect x="795.26" y="571.45" width="24.87" height="24.87" fill="#150b37"/>
<rect x="819.52" y="571.45" width="52.17" height="24.87" fill="#140b34"/>
<rect x="871.09" y="571.45" width="24.87" height="24.87" fill="#160b39"/>
<rect x="895.36" y="571.45" width="24.87" height="24.87" fill="#240c4f"/>
<rect x="919.62" y="571.45" width="27.90" height="24.87" fill="#3e0966"/>
<rect x="946.92" y="571.45" width="24.87" height="24.87" fill="#550f6d"/>
<rect x="971.19" y="571.45" width="24.87" height="24.87" fill="#64156e"/>
<rect x="995.46" y="571.45" width="27.90" height="24.87" fill="#741a6e"/>
<rect x="1022.76" y="571.45" width="24.87" height="24.87" fill="#801f6c"/>
<rect x="1047.02" y="571.45" width="24.87" height="24.87" fill="#88226a"/>
<rect x="1071.29" y="571.45" width="27.90" height="24.87" fill="#8a226a"/>
<rect x="1098.59" y="571.45" width="24.87" height="24.87" fill="#88226a"/>
<rect x="1122.86" y="571.45" width="24.87" height="24.87" fill="#87216b"/>
<rect x="1147.12" y="571.45" width="24.87" height="24.87" fill="#84206b"/>
<rect x="1171.39" y="571.45" width="27.90" height="24.87" fill="#801f6c"/>
<rect x="1198.69" y="571.45" width="24.87" height="24.87" fill="#771c6d"/>
<rect x="1222.96" y="571.45" width="24.87" height="24.87" fill="#6d186e"/>
<rect x="1247.22" y="571.45" width="27.90" height="24.87" fill="#61136e"/>
<rect x="1274.52" y="571.45" width="24.87" height="24.87" fill="#57106e"/>
<rect x="1298.79" y="571.45" width="24.87" height="24.87" fill="#4f0d6c"/>
<rect x="1323.06" y="571.45" width="27.90" height="24.87" fill="#470b6a"/>
<rect x="1350.36" y="571.45" width="24.87" height="24.87" fill="#3e0966"/>
<rect x="1374.62" y="571.45" width="24.87" height="24.87" fill="#390963"/>
<rect x="1398.89" y="571.45" width="24.87" height="24.87" fill="#320a5e"/>
<rect x="1423.16" y="571.45" width="27.90" height="24.87" fill="#2d0b59"/>
<rect x="1450.46" y="571.45" width="24.87" height="24.87" fill="#280b53"/>
<rect x="1474.72" y="571.45" width="24.87" height="24.87" fill="#240c4f"/>
<rect x="340.26" y="595.71" width="27.90" height="27.90" fill="#380962"/>
<rect x="367.56" y="595.71" width="24.87" height="27.90" fill="#3e0966"/>
<rect x="391.82" y="595.71" width="24.87" height="27.90" fill="#440a68"/>
<rect x="416.09" y="595.71" width="27.90" height="27.90" fill="#470b6a"/>
<rect x="443.39" y="595.71" width="24.87" height="27.90" fill="#4c0c6b"/>
<rect x="467.66" y="595.71" width="24.87" height="27.90" fill="#4d0d6c"/>
<rect x="491.92" y="595.71" width="27.90" height="27.90" fill="#510e6c"/>
<rect x="519.22" y="595.71" width="49.13" height="27.90" fill="#520e6d"/>
<rect x="567.76" y="595.71" width="24.87" height="27.90" fill="#510e6c"/>
<rect x="592.02" y="595.71" width="27.90" height="27.90" fill="#4c0c6b"/>
<rect x="619.32" y="595.71" width="24.87" height="27.90" fill="#440a68"/>
<rect x="643.59" y="595.71" width="24.87" height="27.90" fill="#3b0964"/>
<rect x="667.86" y="595.71" width="27.90" height="27.90" fill="#320a5e"/>
<rect x="695.16" y="595.71" width="24.87" height="27.90" fill="#280b53"/>
<rect x="719.42" y="595.71" width="24.87" height="27.90" fill="#1e0c45"/>
<rect x="743.69" y="595.71" width="27.90" height="27.90" fill="#180c3c"/>
<rect x="770.99" y="595.71" width="24.87" height="27.90" fill="#160b39"/>
<rect x="795.26" y="595.71" width="24.87" height="27.90" fill="#150b37"/>
<rect x="819.52" y="595.71" width="52.17" height="27.90" fill="#140b34"/>
<rect x="871.09" y="595.71" width="24.87" height="27.90" fill="#150b37"/>
<rect x="895.36" y="595.71" width="24.87" height="27.90" fill="#210c4a"/>
<rect x="919.62" y="595.71" width="27.90" height="27.90" fill="#360961"/>
<rect x="946.92" y="595.71" width="24.87" height="27.90" fill="#4c0c6b"/>
<rect x="971.19" y="595.71" width="24.87" height="27.90" fill="#5d126e"/>
<rect x="995.46" y="595.71" width="27.90" height="27.90" fill="#71196e"/>
<rect x="1022.76" y="595.71" width="24.87" height="27.90" fill="#84206b"/>
<rect x="1047.02" y="595.71" width="24.87" height="27.90" fill="#902568"/>
<rect x="1071.29" y="595.71" width="27.90" height="27.90" fill="#922568"/>
<rect x="1098.59" y="595.71" width="24.87" height="27.90" fill="#902568"/>
<rect x="1122.86" y="595.71" width="24.87" height="27.90" fill="#8d2369"/>
<rect x="1147.12" y="595.71" width="24.87" height="27.90" fill="#88226a"/>
<rect x="1171.39" y="595.71" width="27.90" height="27.90" fill="#84206b"/>
<rect x="1198.69" y="595.71" width="24.87" height="27.90" fill="#781c6d"/>
<rect x="1222.96" y="595.71" width="24.87" height="27.90" fill="#6a176e"/>
<rect x="1247.22" y="595.71" width="27.90" height="27.90" fill="#5c126e"/>
<rect x="1274.52" y="595.71" width="24.87" height="27.90" fill="#520e6d"/>
<rect x="1298.79" y="595.71" width="24.87" height="27.90" fill="#4a0c6b"/>
<rect x="1323.06" y="595.71" width="27.90" height="27.90" fill="#440a68"/>
<rect x="1350.36" y="595.71" width="24.87" height="27.90" fill="#3e0966"/>
<rect x="1374.62" y="595.71" width="24.87" height="27.90" fill="#390963"/>
<rect x="1398.89" y="595.71" width="24.87" height="27.90" fill="#340a5f"/>
<rect x="1423.16" y="595.71" width="27.90" height="27.90" fill="#310a5c"/>
<rect x="1450.46" y="595.71" width="24.87" height="27.90" fill="#2b0b57"/>
<rect x="1474.72" y="595.71" width="24.87" height="27.90" fill="#290b55"/>
<rect x="340.26" y="623.01" width="27.90" height="24.87" fill="#420a68"/>
<rect x="367.56" y="623.01" width="24.87" height="24.87" fill="#470b6a"/>
<rect x="391.82" y="623.01" width="24.87" height="24.87" fill="#4a0c6b"/>
<rect x="416.09" y="623.01" width="152.27" height="24.87" fill="#4d0d6c"/>
<rect x="567.76" y="623.01" width="24.87" height="24.87" fill="#4a0c6b"/>
<rect x="592.02" y="623.01" width="27.90" height="24.87" fill="#3e0966"/>
<rect x="619.32" y="623.01" width="24.87" height="24.87" fill="#2f0a5b"/>
<rect x="643.59" y="623.01" width="24.87" height="24.87" fill="#230c4c"/>
<rect x="667.86" y="623.01" width="27.90" height="24.87" fill="#1b0c41"/>
<rect x="695.16" y="623.01" width="24.87" height="24.87" fill="#150b37"/>
<rect x="719.42" y="623.01" width="24.87" height="24.87" fill="#120a32"/>
<rect x="743.69" y="623.01" width="76.43" height="24.87" fill="#10092d"/>
<rect x="819.52" y="623.01" width="27.58" height="24.87" fill="#110a30"/>
<rect x="846.50" y="623.01" width="25.19" height="24.87" fill="#120a32"/>
<rect x="871.09" y="623.01" width="24.87" height="24.87" fill="#150b37"/>
<rect x="895.36" y="623.01" width="24.87" height="24.87" fill="#1b0c41"/>
<rect x="919.62" y="623.01" width="27.90" height="24.87" fill="#230c4c"/>
<rect x="946.92" y="623.01" width="24.87" height="24.87" fill="#2d0b59"/>
<rect x="971.19" y="623.01" width="24.87" height="24.87" fill="#390963"/>
<rect x="995.46" y="623.01" width="27.90" height="24.87" fill="#4c0c6b"/>
<rect x="1022.76" y="623.01" width="24.87" height="24.87" fill="#5d126e"/>
<rect x="1047.02" y="623.01" width="24.87" height="24.87" fill="#6a176e"/>
<rect x="1071.29" y="623.01" width="27.90" height="24.87" fill="#721a6e"/>
<rect x="1098.59" y="623.01" width="24.87" height="24.87" fill="#771c6d"/>
<rect x="1122.86" y="623.01" width="24.87" height="24.87" fill="#7a1d6d"/>
<rect x="1147.12" y="623.01" width="24.87" height="24.87" fill="#7d1e6d"/>
<rect x="1171.39" y="623.01" width="27.90" height="24.87" fill="#7c1d6d"/>
<rect x="1198.69" y="623.01" width="24.87" height="24.87" fill="#751b6e"/>
<rect x="1222.96" y="623.01" width="24.87" height="24.87" fill="#69166e"/>
<rect x="1247.22" y="623.01" width="27.90" height="24.87" fill="#5c126e"/>
<rect x="1274.52" y="623.01" width="24.87" height="24.87" fill="#520e6d"/>
<rect x="1298.79" y="623.01" width="24.87" height="24.87" fill="#4a0c6b"/>
<rect x="1323.06" y="623.01" width="27.90" height="24.87" fill="#420a68"/>
<rect x="1350.36" y="623.01" width="24.87" height="24.87" fill="#3b0964"/>
<rect x="1374.62" y="623.01" width="24.87" height="24.87" fill="#380962"/>
<rect x="1398.89" y="623.01" width="24.87" height="24.87" fill="#340a5f"/>
<rect x="1423.16" y="623.01" width="27.90" height="24.87" fill="#310a5c"/>
<rect x="1450.46" y="623.01" width="49.13" height="24.87" fill="#2f0a5b"/>
<rect x="340.26" y="647.28" width="27.90" height="24.87" fill="#4a0c6b"/>
<rect x="367.56" y="647.28" width="24.87" height="24.87" fill="#4f0d6c"/>
<rect x="391.82" y="647.28" width="24.87" height="24.87" fill="#510e6c"/>
<rect x="416.09" y="647.28" width="76.43" height="24.87" fill="#520e6d"/>
<rect x="491.92" y="647.28" width="27.90" height="24.87" fill="#4f0d6c"/>
<rect x="519.22" y="647.28" width="24.87" height="24.87" fill="#4c0c6b"/>
<rect x="543.49" y="647.28" width="24.87" height="24.87" fill="#470b6a"/>
<rect x="567.76" y="647.28" width="24.87" height="24.87" fill="#3e0966"/>
<rect x="592.02" y="647.28" width="27.90" height="24.87" fill="#2b0b57"/>
<rect x="619.32" y="647.28" width="24.87" height="24.87" fill="#160b39"/>
<rect x="643.59" y="647.28" width="24.87" height="24.87" fill="#0c0826"/>
<rect x="667.86" y="647.28" width="27.90" height="24.87" fill="#09061f"/>
<rect x="695.16" y="647.28" width="24.87" height="24.87" fill="#08051d"/>
<rect x="719.42" y="647.28" width="24.87" height="24.87" fill="#07051b"/>
<rect x="743.69" y="647.28" width="27.90" height="24.87" fill="#060419"/>
<rect x="770.99" y="647.28" width="24.87" height="24.87" fill="#07051b"/>
<rect x="795.26" y="647.28" width="24.87" height="24.87" fill="#0b0724"/>
<rect x="819.52" y="647.28" width="27.58" height="24.87" fill="#10092d"/>
<rect x="846.50" y="647.28" width="25.19" height="24.87" fill="#160b39"/>
<rect x="871.09" y="647.28" width="24.87" height="24.87" fill="#190c3e"/>
<rect x="895.36" y="647.28" width="24.87" height="24.87" fill="#1b0c41"/>
<rect x="919.62" y="647.28" width="27.90" height="24.87" fill="#1c0c43"/>
<rect x="946.92" y="647.28" width="24.87" height="24.87" fill="#1e0c45"/>
<rect x="971.19" y="647.28" width="24.87" height="24.87" fill="#230c4c"/>
<rect x="995.46" y="647.28" width="27.90" height="24.87" fill="#2b0b57"/>
<rect x="1022.76" y="647.28" width="24.87" height="24.87" fill="#380962"/>
<rect x="1047.02" y="647.28" width="24.87" height="24.87" fill="#420a68"/>
<rect x="1071.29" y="647.28" width="27.90" height="24.87" fill="#4a0c6b"/>
<rect x="1098.59" y="647.28" width="24.87" height="24.87" fill="#520e6d"/>
<rect x="1122.86" y="647.28" width="24.87" height="24.87" fill="#59106e"/>
<rect x="1147.12" y="647.28" width="24.87" height="24.87" fill="#5c126e"/>
<rect x="1171.39" y="647.28" width="27.90" height="24.87" fill="#5d126e"/>
<rect x="1198.69" y="647.28" width="24.87" height="24.87" fill="#57106e"/>
<rect x="1222.96" y="647.28" width="24.87" height="24.87" fill="#4f0d6c"/>
<rect x="1247.22" y="647.28" width="27.90" height="24.87" fill="#470b6a"/>
<rect x="1274.52" y="647.28" width="24.87" height="24.87" fill="#400a67"/>
<rect x="1298.79" y="647.28" width="24.87" height="24.87" fill="#3b0964"/>
<rect x="1323.06" y="647.28" width="27.90" height="24.87" fill="#340a5f"/>
<rect x="1350.36" y="647.28" width="24.87" height="24.87" fill="#310a5c"/>
<rect x="1374.62" y="647.28" width="24.87" height="24.87" fill="#2d0b59"/>
<rect x="1398.89" y="647.28" width="52.17" height="24.87" fill="#2b0b57"/>
<rect x="1450.46" y="647.28" width="49.13" height="24.87" fill="#290b55"/>
<rect x="340.26" y="671.55" width="128.00" height="27.90" fill="#510e6c"/>
<rect x="467.66" y="671.55" width="24.87" height="27.90" fill="#4f0d6c"/>
<rect x="491.92" y="671.55" width="27.90" height="27.90" fill="#4c0c6b"/>
<rect x="519.22" y="671.55" width="24.87" height="27.90" fill="#450a69"/>
<rect x="543.49" y="671.55" width="24.87" height="27.90" fill="#3e0966"/>
<rect x="567.76" y="671.55" width="24.87" height="27.90" fill="#320a5e"/>
<rect x="592.02" y="671.55" width="27.90" height="27.90" fill="#1e0c45"/>
<rect x="619.32" y="671.55" width="24.87" height="27.90" fill="#0c0826"/>
<rect x="643.59" y="671.55" width="24.87" height="27.90" fill="#050417"/>
<rect x="667.86" y="671.55" width="27.90" height="27.90" fill="#040314"/>
<rect x="695.16" y="671.55" width="49.13" height="27.90" fill="#030210"/>
<rect x="743.69" y="671.55" width="27.90" height="27.90" fill="#060419"/>
<rect x="770.99" y="671.55" width="24.87" height="27.90" fill="#0d0829"/>
<rect x="795.26" y="671.55" width="24.87" height="27.90" fill="#180c3c"/>
<rect x="819.52" y="671.55" width="76.43" height="27.90" fill="#230c4c"/>
<rect x="895.36" y="671.55" width="24.87" height="27.90" fill="#290b55"/>
<rect x="919.62" y="671.55" width="76.43" height="27.90" fill="#320a5e"/>
<rect x="995.46" y="671.55" width="27.90" height="27.90" fill="#2f0a5b"/>
<rect x="1022.76" y="671.55" width="24.87" height="27.90" fill="#280b53"/>
<rect x="1047.02" y="671.55" width="24.87" height="27.90" fill="#240c4f"/>
<rect x="1071.29" y="671.55" width="228.10" height="27.90" fill="#1f0c48"/>
<rect x="1298.79" y="671.55" width="24.87" height="27.90" fill="#230c4c"/>
<rect x="1323.06" y="671.55" width="27.90" height="27.90" fill="#210c4a"/>
<rect x="1350.36" y="671.55" width="149.23" height="27.90" fill="#1f0c48"/>
<rect x="340.26" y="698.85" width="76.43" height="24.87" fill="#4f0d6c"/>
<rect x="416.09" y="698.85" width="27.90" height="24.87" fill="#4d0d6c"/>
<rect x="443.39" y="698.85" width="24.87" height="24.87" fill="#4c0c6b"/>
<rect x="467.66" y="698.85" width="24.87" height="24.87" fill="#490b6a"/>
<rect x="491.92" y="698.85" width="27.90" height="24.87" fill="#440a68"/>
<rect x="519.22" y="698.85" width="24.87" height="24.87" fill="#3d0965"/>
<rect x="543.49" y="698.85" width="24.87" height="24.87" fill="#360961"/>
<rect x="567.76" y="698.85" width="24.87" height="24.87" fill="#290b55"/>
<rect x="592.02" y="698.85" width="27.90" height="24.87" fill="#180c3c"/>
<rect x="619.32" y="698.85" width="24.87" height="24.87" fill="#0a0722"/>
<rect x="643.59" y="698.85" width="24.87" height="24.87" fill="#040314"/>
<rect x="667.86" y="698.85" width="52.17" height="24.87" fill="#040312"/>
<rect x="719.42" y="698.85" width="24.87" height="24.87" fill="#040314"/>
<rect x="743.69" y="698.85" width="27.90" height="24.87" fill="#0d0829"/>
<rect x="770.99" y="698.85" width="24.87" height="24.87" fill="#1c0c43"/>
<rect x="795.26" y="698.85" width="24.87" height="24.87" fill="#2f0a5b"/>
<rect x="819.52" y="698.85" width="27.58" height="24.87" fill="#3d0965"/>
<rect x="846.50" y="698.85" width="25.19" height="24.87" fill="#4c0c6b"/>
<rect x="871.09" y="698.85" width="24.87" height="24.87" fill="#540f6d"/>
<rect x="895.36" y="698.85" width="24.87" height="24.87" fill="#5f136e"/>
<rect x="919.62" y="698.85" width="27.90" height="24.87" fill="#69166e"/>
<rect x="946.92" y="698.85" width="24.87" height="24.87" fill="#6d186e"/>
<rect x="971.19" y="698.85" width="24.87" height="24.87" fill="#6c186e"/>
<rect x="995.46" y="698.85" width="27.90" height="24.87" fill="#5d126e"/>
<rect x="1022.76" y="698.85" width="24.87" height="24.87" fill="#520e6d"/>
<rect x="1047.02" y="698.85" width="24.87" height="24.87" fill="#420a68"/>
<rect x="1071.29" y="698.85" width="27.90" height="24.87" fill="#290b55"/>
<rect x="1098.59" y="698.85" width="24.87" height="24.87" fill="#190c3e"/>
<rect x="1122.86" y="698.85" width="24.87" height="24.87" fill="#140b34"/>
<rect x="1147.12" y="698.85" width="24.87" height="24.87" fill="#10092d"/>
<rect x="1171.39" y="698.85" width="128.00" height="24.87" fill="#0d0829"/>
<rect x="1298.79" y="698.85" width="24.87" height="24.87" fill="#10092d"/>
<rect x="1323.06" y="698.85" width="27.90" height="24.87" fill="#110a30"/>
<rect x="1350.36" y="698.85" width="24.87" height="24.87" fill="#120a32"/>
<rect x="1374.62" y="698.85" width="49.13" height="24.87" fill="#140b34"/>
<rect x="1423.16" y="698.85" width="27.90" height="24.87" fill="#150b37"/>
<rect x="1450.46" y="698.85" width="24.87" height="24.87" fill="#160b39"/>
<rect x="1474.72" y="698.85" width="24.87" height="24.87" fill="#180c3c"/>
<rect x="340.26" y="723.11" width="27.90" height="24.87" fill="#510e6c"/>
<rect x="367.56" y="723.11" width="24.87" height="24.87" fill="#4d0d6c"/>
<rect x="391.82" y="723.11" width="24.87" height="24.87" fill="#4a0c6b"/>
<rect x="416.09" y="723.11" width="27.90" height="24.87" fill="#470b6a"/>
<rect x="443.39" y="723.11" width="24.87" height="24.87" fill="#420a68"/>
<rect x="467.66" y="723.11" width="24.87" height="24.87" fill="#3e0966"/>
<rect x="491.92" y="723.11" width="27.90" height="24.87" fill="#3b0964"/>
<rect x="519.22" y="723.11" width="24.87" height="24.87" fill="#360961"/>
<rect x="543.49" y="723.11" width="24.87" height="24.87" fill="#2f0a5b"/>
<rect x="567.76" y="723.11" width="24.87" height="24.87" fill="#260c51"/>
<rect x="592.02" y="723.11" width="27.90" height="24.87" fill="#180c3c"/>
<rect x="619.32" y="723.11" width="24.87" height="24.87" fill="#0c0826"/>
<rect x="643.59" y="723.11" width="52.17" height="24.87" fill="#07051b"/>
<rect x="695.16" y="723.11" width="24.87" height="24.87" fill="#120a32"/>
<rect x="719.42" y="723.11" width="24.87" height="24.87" fill="#1b0c41"/>
<rect x="743.69" y="723.11" width="27.90" height="24.87" fill="#2f0a5b"/>
<rect x="770.99" y="723.11" width="24.87" height="24.87" fill="#470b6a"/>
<rect x="795.26" y="723.11" width="24.87" height="24.87" fill="#5d126e"/>
<rect x="819.52" y="723.11" width="27.58" height="24.87" fill="#82206c"/>
<rect x="846.50" y="723.11" width="25.19" height="24.87" fill="#a52c60"/>
<rect x="871.09" y="723.11" width="24.87" height="24.87" fill="#bc3754"/>
<rect x="895.36" y="723.11" width="24.87" height="24.87" fill="#c33b4f"/>
<rect x="919.62" y="723.11" width="52.17" height="24.87" fill="#c73e4c"/>
<rect x="971.19" y="723.11" width="24.87" height="24.87" fill="#c33b4f"/>
<rect x="995.46" y="723.11" width="27.90" height="24.87" fill="#bc3754"/>
<rect x="1022.76" y="723.11" width="24.87" height="24.87" fill="#a92e5e"/>
<rect x="1047.02" y="723.11" width="24.87" height="24.87" fill="#952667"/>
<rect x="1071.29" y="723.11" width="27.90" height="24.87" fill="#781c6d"/>
<rect x="1098.59" y="723.11" width="24.87" height="24.87" fill="#59106e"/>
<rect x="1122.86" y="723.11" width="24.87" height="24.87" fill="#3d0965"/>
<rect x="1147.12" y="723.11" width="24.87" height="24.87" fill="#190c3e"/>
<rect x="1171.39" y="723.11" width="27.90" height="24.87" fill="#10092d"/>
<rect x="1198.69" y="723.11" width="24.87" height="24.87" fill="#0b0724"/>
<rect x="1222.96" y="723.11" width="76.43" height="24.87" fill="#09061f"/>
<rect x="1298.79" y="723.11" width="24.87" height="24.87" fill="#08051d"/>
<rect x="1323.06" y="723.11" width="27.90" height="24.87" fill="#0a0722"/>
<rect x="1350.36" y="723.11" width="24.87" height="24.87" fill="#0b0724"/>
<rect x="1374.62" y="723.11" width="24.87" height="24.87" fill="#0c0826"/>
<rect x="1398.89" y="723.11" width="24.87" height="24.87" fill="#0d0829"/>
<rect x="1423.16" y="723.11" width="52.17" height="24.87" fill="#0e092b"/>
<rect x="1474.72" y="723.11" width="24.87" height="24.87" fill="#10092d"/>
<rect x="340.26" y="747.38" width="27.90" height="27.90" fill="#4c0c6b"/>
<rect x="367.56" y="747.38" width="24.87" height="27.90" fill="#450a69"/>
<rect x="391.82" y="747.38" width="24.87" height="27.90" fill="#420a68"/>
<rect x="416.09" y="747.38" width="27.90" height="27.90" fill="#3d0965"/>
<rect x="443.39" y="747.38" width="24.87" height="27.90" fill="#390963"/>
<rect x="467.66" y="747.38" width="24.87" height="27.90" fill="#360961"/>
<rect x="491.92" y="747.38" width="27.90" height="27.90" fill="#340a5f"/>
<rect x="519.22" y="747.38" width="24.87" height="27.90" fill="#310a5c"/>
<rect x="543.49" y="747.38" width="24.87" height="27.90" fill="#2f0a5b"/>
<rect x="567.76" y="747.38" width="24.87" height="27.90" fill="#2b0b57"/>
<rect x="592.02" y="747.38" width="27.90" height="27.90" fill="#260c51"/>
<rect x="619.32" y="747.38" width="24.87" height="27.90" fill="#230c4c"/>
<rect x="643.59" y="747.38" width="52.17" height="27.90" fill="#1f0c48"/>
<rect x="695.16" y="747.38" width="49.13" height="27.90" fill="#280b53"/>
<rect x="743.69" y="747.38" width="27.90" height="27.90" fill="#290b55"/>
<rect x="770.99" y="747.38" width="24.87" height="27.90" fill="#3d0965"/>
<rect x="795.26" y="747.38" width="24.87" height="27.90" fill="#67166e"/>
<rect x="819.52" y="747.38" width="27.58" height="27.90" fill="#982766"/>
<rect x="846.50" y="747.38" width="25.19" height="27.90" fill="#cb4149"/>
<rect x="871.09" y="747.38" width="24.87" height="27.90" fill="#eb6429"/>
<rect x="895.36" y="747.38" width="24.87" height="27.90" fill="#f68013"/>
<rect x="919.62" y="747.38" width="27.90" height="27.90" fill="#fb9606"/>
<rect x="946.92" y="747.38" width="24.87" height="27.90" fill="#fb9906"/>
<rect x="971.19" y="747.38" width="24.87" height="27.90" fill="#fb9606"/>
<rect x="995.46" y="747.38" width="27.90" height="27.90" fill="#f98b0b"/>
<rect x="1022.76" y="747.38" width="24.87" height="27.90" fill="#eb6429"/>
<rect x="1047.02" y="747.38" width="24.87" height="27.90" fill="#d24644"/>
<rect x="1071.29" y="747.38" width="27.90" height="27.90" fill="#ae305c"/>
<rect x="1098.59" y="747.38" width="24.87" height="27.90" fill="#7d1e6d"/>
<rect x="1122.86" y="747.38" width="24.87" height="27.90" fill="#540f6d"/>
<rect x="1147.12" y="747.38" width="24.87" height="27.90" fill="#320a5e"/>
<rect x="1171.39" y="747.38" width="27.90" height="27.90" fill="#190c3e"/>
<rect x="1198.69" y="747.38" width="24.87" height="27.90" fill="#10092d"/>
<rect x="1222.96" y="747.38" width="24.87" height="27.90" fill="#0b0724"/>
<rect x="1247.22" y="747.38" width="52.17" height="27.90" fill="#09061f"/>
<rect x="1298.79" y="747.38" width="52.17" height="27.90" fill="#08051d"/>
<rect x="1350.36" y="747.38" width="49.13" height="27.90" fill="#09061f"/>
<rect x="1398.89" y="747.38" width="24.87" height="27.90" fill="#0a0722"/>
<rect x="1423.16" y="747.38" width="52.17" height="27.90" fill="#0b0724"/>
<rect x="1474.72" y="747.38" width="24.87" height="27.90" fill="#0c0826"/>
<rect x="340.26" y="774.68" width="27.90" height="24.87" fill="#420a68"/>
<rect x="367.56" y="774.68" width="24.87" height="24.87" fill="#3b0964"/>
<rect x="391.82" y="774.68" width="24.87" height="24.87" fill="#360961"/>
<rect x="416.09" y="774.68" width="27.90" height="24.87" fill="#310a5c"/>
<rect x="443.39" y="774.68" width="24.87" height="24.87" fill="#2f0a5b"/>
<rect x="467.66" y="774.68" width="176.53" height="24.87" fill="#2d0b59"/>
<rect x="643.59" y="774.68" width="24.87" height="24.87" fill="#2f0a5b"/>
<rect x="667.86" y="774.68" width="27.90" height="24.87" fill="#310a5c"/>
<rect x="695.16" y="774.68" width="49.13" height="24.87" fill="#2d0b59"/>
<rect x="743.69" y="774.68" width="27.90" height="24.87" fill="#2f0a5b"/>
<rect x="770.99" y="774.68" width="24.87" height="24.87" fill="#4c0c6b"/>
<rect x="795.26" y="774.68" width="24.87" height="24.87" fill="#741a6e"/>
<rect x="819.52" y="774.68" width="27.58" height="24.87" fill="#ae305c"/>
<rect x="846.50" y="774.68" width="25.19" height="24.87" fill="#f8850f"/>
<rect x="871.09" y="774.68" width="24.87" height="24.87" fill="#fac026"/>
<rect x="895.36" y="774.68" width="24.87" height="24.87" fill="#f4f88e"/>
<rect x="919.62" y="774.68" width="103.73" height="24.87" fill="#fcffa4"/>
<rect x="1022.76" y="774.68" width="24.87" height="24.87" fill="#f6d746"/>
<rect x="1047.02" y="774.68" width="24.87" height="24.87" fill="#fb9906"/>
<rect x="1071.29" y="774.68" width="27.90" height="24.87" fill="#eb6429"/>
<rect x="1098.59" y="774.68" width="24.87" height="24.87" fill="#c33b4f"/>
<rect x="1122.86" y="774.68" width="24.87" height="24.87" fill="#8c2369"/>
<rect x="1147.12" y="774.68" width="24.87" height="24.87" fill="#5a116e"/>
<rect x="1171.39" y="774.68" width="27.90" height="24.87" fill="#320a5e"/>
<rect x="1198.69" y="774.68" width="24.87" height="24.87" fill="#190c3e"/>
<rect x="1222.96" y="774.68" width="24.87" height="24.87" fill="#0d0829"/>
<rect x="1247.22" y="774.68" width="27.90" height="24.87" fill="#09061f"/>
<rect x="1274.52" y="774.68" width="24.87" height="24.87" fill="#07051b"/>
<rect x="1298.79" y="774.68" width="76.43" height="24.87" fill="#08051d"/>
<rect x="1374.62" y="774.68" width="124.97" height="24.87" fill="#07051b"/>
<rect x="340.26" y="798.95" width="27.90" height="24.87" fill="#390963"/>
<rect x="367.56" y="798.95" width="24.87" height="24.87" fill="#310a5c"/>
<rect x="391.82" y="798.95" width="24.87" height="24.87" fill="#290b55"/>
<rect x="416.09" y="798.95" width="27.90" height="24.87" fill="#240c4f"/>
<rect x="443.39" y="798.95" width="49.13" height="24.87" fill="#230c4c"/>
<rect x="491.92" y="798.95" width="27.90" height="24.87" fill="#240c4f"/>
<rect x="519.22" y="798.95" width="24.87" height="24.87" fill="#260c51"/>
<rect x="543.49" y="798.95" width="24.87" height="24.87" fill="#290b55"/>
<rect x="567.76" y="798.95" width="24.87" height="24.87" fill="#2b0b57"/>
<rect x="592.02" y="798.95" width="27.90" height="24.87" fill="#2d0b59"/>
<rect x="619.32" y="798.95" width="24.87" height="24.87" fill="#310a5c"/>
<rect x="643.59" y="798.95" width="24.87" height="24.87" fill="#340a5f"/>
<rect x="667.86" y="798.95" width="27.90" height="24.87" fill="#390963"/>
<rect x="695.16" y="798.95" width="49.13" height="24.87" fill="#2d0b59"/>
<rect x="743.69" y="798.95" width="27.90" height="24.87" fill="#320a5e"/>
<rect x="770.99" y="798.95" width="24.87" height="24.87" fill="#510e6c"/>
<rect x="795.26" y="798.95" width="24.87" height="24.87" fill="#781c6d"/>
<rect x="819.52" y="798.95" width="27.58" height="24.87" fill="#bf3952"/>
<rect x="846.50" y="798.95" width="25.19" height="24.87" fill="#fc9f07"/>
<rect x="871.09" y="798.95" width="24.87" height="24.87" fill="#f1f179"/>
<rect x="895.36" y="798.95" width="152.27" height="24.87" fill="#fcffa4"/>
<rect x="1047.02" y="798.95" width="24.87" height="24.87" fill="#f5db4c"/>
<rect x="1071.29" y="798.95" width="27.90" height="24.87" fill="#fb9906"/>
<rect x="1098.59" y="798.95" width="24.87" height="24.87" fill="#e25734"/>
<rect x="1122.86" y="798.95" width="24.87" height="24.87" fill="#b63458"/>
<rect x="1147.12" y="798.95" width="24.87" height="24.87" fill="#781c6d"/>
<rect x="1171.39" y="798.95" width="27.90" height="24.87" fill="#470b6a"/>
<rect x="1198.69" y="798.95" width="24.87" height="24.87" fill="#230c4c"/>
<rect x="1222.96" y="798.95" width="24.87" height="24.87" fill="#10092d"/>
<rect x="1247.22" y="798.95" width="27.90" height="24.87" fill="#09061f"/>
<rect x="1274.52" y="798.95" width="24.87" height="24.87" fill="#07051b"/>
<rect x="1298.79" y="798.95" width="24.87" height="24.87" fill="#0a0722"/>
<rect x="1323.06" y="798.95" width="27.90" height="24.87" fill="#08051d"/>
<rect x="1350.36" y="798.95" width="24.87" height="24.87" fill="#060419"/>
<rect x="1374.62" y="798.95" width="24.87" height="24.87" fill="#050417"/>
<rect x="1398.89" y="798.95" width="100.70" height="24.87" fill="#040314"/>
<rect x="340.26" y="823.21" width="27.90" height="24.87" fill="#2f0a5b"/>
<rect x="367.56" y="823.21" width="24.87" height="24.87" fill="#240c4f"/>
<rect x="391.82" y="823.21" width="24.87" height="24.87" fill="#1e0c45"/>
<rect x="416.09" y="823.21" width="27.90" height="24.87" fill="#190c3e"/>
<rect x="443.39" y="823.21" width="49.13" height="24.87" fill="#180c3c"/>
<rect x="491.92" y="823.21" width="27.90" height="24.87" fill="#1b0c41"/>
<rect x="519.22" y="823.21" width="24.87" height="24.87" fill="#1f0c48"/>
<rect x="543.49" y="823.21" width="24.87" height="24.87" fill="#230c4c"/>
<rect x="567.76" y="823.21" width="24.87" height="24.87" fill="#280b53"/>
<rect x="592.02" y="823.21" width="27.90" height="24.87" fill="#2b0b57"/>
<rect x="619.32" y="823.21" width="24.87" height="24.87" fill="#2f0a5b"/>
<rect x="643.59" y="823.21" width="24.87" height="24.87" fill="#340a5f"/>
<rect x="667.86" y="823.21" width="27.90" height="24.87" fill="#3b0964"/>
<rect x="695.16" y="823.21" width="49.13" height="24.87" fill="#2d0b59"/>
<rect x="743.69" y="823.21" width="27.90" height="24.87" fill="#320a5e"/>
<rect x="770.99" y="823.21" width="24.87" height="24.87" fill="#510e6c"/>
<rect x="795.26" y="823.21" width="24.87" height="24.87" fill="#6f196e"/>
<rect x="819.52" y="823.21" width="27.58" height="24.87" fill="#c33b4f"/>
<rect x="846.50" y="823.21" width="25.19" height="24.87" fill="#fc9f07"/>
<rect x="871.09" y="823.21" width="24.87" height="24.87" fill="#f4f88e"/>
<rect x="895.36" y="823.21" width="152.27" height="24.87" fill="#fcffa4"/>
<rect x="1047.02" y="823.21" width="24.87" height="24.87" fill="#f4e156"/>
<rect x="1071.29" y="823.21" width="27.90" height="24.87" fill="#fc9f07"/>
<rect x="1098.59" y="823.21" width="24.87" height="24.87" fill="#e75e2e"/>
<rect x="1122.86" y="823.21" width="24.87" height="24.87" fill="#bd3853"/>
<rect x="1147.12" y="823.21" width="24.87" height="24.87" fill="#8c2369"/>
<rect x="1171.39" y="823.21" width="27.90" height="24.87" fill="#5f136e"/>
<rect x="1198.69" y="823.21" width="24.87" height="24.87" fill="#380962"/>
<rect x="1222.96" y="823.21" width="24.87" height="24.87" fill="#190c3e"/>
<rect x="1247.22" y="823.21" width="27.90" height="24.87" fill="#0d0829"/>
<rect x="1274.52" y="823.21" width="24.87" height="24.87" fill="#09061f"/>
<rect x="1298.79" y="823.21" width="24.87" height="24.87" fill="#0d0829"/>
<rect x="1323.06" y="823.21" width="27.90" height="24.87" fill="#09061f"/>
<rect x="1350.36" y="823.21" width="24.87" height="24.87" fill="#060419"/>
<rect x="1374.62" y="823.21" width="24.87" height="24.87" fill="#050417"/>
<rect x="1398.89" y="823.21" width="100.70" height="24.87" fill="#040314"/>
<rect x="340.26" y="847.48" width="27.90" height="27.90" fill="#240c4f"/>
<rect x="367.56" y="847.48" width="24.87" height="27.90" fill="#1c0c43"/>
<rect x="391.82" y="847.48" width="24.87" height="27.90" fill="#150b37"/>
<rect x="416.09" y="847.48" width="27.90" height="27.90" fill="#110a30"/>
<rect x="443.39" y="847.48" width="49.13" height="27.90" fill="#10092d"/>
<rect x="491.92" y="847.48" width="27.90" height="27.90" fill="#110a30"/>
<rect x="519.22" y="847.48" width="24.87" height="27.90" fill="#140b34"/>
<rect x="543.49" y="847.48" width="24.87" height="27.90" fill="#160b39"/>
<rect x="567.76" y="847.48" width="24.87" height="27.90" fill="#190c3e"/>
<rect x="592.02" y="847.48" width="27.90" height="27.90" fill="#1e0c45"/>
<rect x="619.32" y="847.48" width="24.87" height="27.90" fill="#240c4f"/>
<rect x="643.59" y="847.48" width="24.87" height="27.90" fill="#2b0b57"/>
<rect x="667.86" y="847.48" width="27.90" height="27.90" fill="#340a5f"/>
<rect x="695.16" y="847.48" width="49.13" height="27.90" fill="#280b53"/>
<rect x="743.69" y="847.48" width="27.90" height="27.90" fill="#2f0a5b"/>
<rect x="770.99" y="847.48" width="24.87" height="27.90" fill="#4c0c6b"/>
<rect x="795.26" y="847.48" width="24.87" height="27.90" fill="#6a176e"/>
<rect x="819.52" y="847.48" width="27.58" height="27.90" fill="#bc3754"/>
<rect x="846.50" y="847.48" width="25.19" height="27.90" fill="#fb9606"/>
<rect x="871.09" y="847.48" width="24.87" height="27.90" fill="#f1f179"/>
<rect x="895.36" y="847.48" width="152.27" height="27.90" fill="#fcffa4"/>
<rect x="1047.02" y="847.48" width="24.87" height="27.90" fill="#f2e661"/>
<rect x="1071.29" y="847.48" width="27.90" height="27.90" fill="#fcaa0f"/>
<rect x="1098.59" y="847.48" width="24.87" height="27.90" fill="#ed6925"/>
<rect x="1122.86" y="847.48" width="24.87" height="27.90" fill="#c73e4c"/>
<rect x="1147.12" y="847.48" width="24.87" height="27.90" fill="#982766"/>
<rect x="1171.39" y="847.48" width="27.90" height="27.90" fill="#69166e"/>
<rect x="1198.69" y="847.48" width="24.87" height="27.90" fill="#440a68"/>
<rect x="1222.96" y="847.48" width="24.87" height="27.90" fill="#230c4c"/>
<rect x="1247.22" y="847.48" width="27.90" height="27.90" fill="#110a30"/>
<rect x="1274.52" y="847.48" width="24.87" height="27.90" fill="#0a0722"/>
<rect x="1298.79" y="847.48" width="24.87" height="27.90" fill="#10092d"/>
<rect x="1323.06" y="847.48" width="27.90" height="27.90" fill="#0a0722"/>
<rect x="1350.36" y="847.48" width="24.87" height="27.90" fill="#060419"/>
<rect x="1374.62" y="847.48" width="24.87" height="27.90" fill="#050417"/>
<rect x="1398.89" y="847.48" width="100.70" height="27.90" fill="#040314"/>
<rect x="340.26" y="874.78" width="27.90" height="24.87" fill="#210c4a"/>
<rect x="367.56" y="874.78" width="24.87" height="24.87" fill="#150b37"/>
<rect x="391.82" y="874.78" width="24.87" height="24.87" fill="#0d0829"/>
<rect x="416.09" y="874.78" width="27.90" height="24.87" fill="#08051d"/>
<rect x="443.39" y="874.78" width="49.13" height="24.87" fill="#060419"/>
<rect x="491.92" y="874.78" width="27.90" height="24.87" fill="#07051b"/>
<rect x="519.22" y="874.78" width="24.87" height="24.87" fill="#08051d"/>
<rect x="543.49" y="874.78" width="24.87" height="24.87" fill="#09061f"/>
<rect x="567.76" y="874.78" width="24.87" height="24.87" fill="#0b0724"/>
<rect x="592.02" y="874.78" width="27.90" height="24.87" fill="#10092d"/>
<rect x="619.32" y="874.78" width="24.87" height="24.87" fill="#180c3c"/>
<rect x="643.59" y="874.78" width="24.87" height="24.87" fill="#210c4a"/>
<rect x="667.86" y="874.78" width="27.90" height="24.87" fill="#2b0b57"/>
<rect x="695.16" y="874.78" width="49.13" height="24.87" fill="#230c4c"/>
<rect x="743.69" y="874.78" width="27.90" height="24.87" fill="#290b55"/>
<rect x="770.99" y="874.78" width="24.87" height="24.87" fill="#420a68"/>
<rect x="795.26" y="874.78" width="24.87" height="24.87" fill="#62146e"/>
<rect x="819.52" y="874.78" width="27.58" height="24.87" fill="#a52c60"/>
<rect x="846.50" y="874.78" width="25.19" height="24.87" fill="#f1731d"/>
<rect x="871.09" y="874.78" width="24.87" height="24.87" fill="#fac62d"/>
<rect x="895.36" y="874.78" width="24.87" height="24.87" fill="#f4f88e"/>
<rect x="919.62" y="874.78" width="103.73" height="24.87" fill="#fcffa4"/>
<rect x="1022.76" y="874.78" width="24.87" height="24.87" fill="#f4e156"/>
<rect x="1047.02" y="874.78" width="24.87" height="24.87" fill="#fac62d"/>
<rect x="1071.29" y="874.78" width="27.90" height="24.87" fill="#f78410"/>
<rect x="1098.59" y="874.78" width="24.87" height="24.87" fill="#d74b3f"/>
<rect x="1122.86" y="874.78" width="24.87" height="24.87" fill="#b0315b"/>
<rect x="1147.12" y="874.78" width="24.87" height="24.87" fill="#82206c"/>
<rect x="1171.39" y="874.78" width="27.90" height="24.87" fill="#5f136e"/>
<rect x="1198.69" y="874.78" width="24.87" height="24.87" fill="#440a68"/>
<rect x="1222.96" y="874.78" width="24.87" height="24.87" fill="#280b53"/>
<rect x="1247.22" y="874.78" width="27.90" height="24.87" fill="#160b39"/>
<rect x="1274.52" y="874.78" width="24.87" height="24.87" fill="#0d0829"/>
<rect x="1298.79" y="874.78" width="24.87" height="24.87" fill="#140b34"/>
<rect x="1323.06" y="874.78" width="27.90" height="24.87" fill="#0c0826"/>
<rect x="1350.36" y="874.78" width="24.87" height="24.87" fill="#09061f"/>
<rect x="1374.62" y="874.78" width="24.87" height="24.87" fill="#07051b"/>
<rect x="1398.89" y="874.78" width="52.17" height="24.87" fill="#060419"/>
<rect x="1450.46" y="874.78" width="49.13" height="24.87" fill="#050417"/>
<rect x="340.26" y="899.05" width="27.90" height="24.87" fill="#1c0c43"/>
<rect x="367.56" y="899.05" width="24.87" height="24.87" fill="#110a30"/>
<rect x="391.82" y="899.05" width="24.87" height="24.87" fill="#08051d"/>
<rect x="416.09" y="899.05" width="27.90" height="24.87" fill="#040312"/>
<rect x="443.39" y="899.05" width="100.70" height="24.87" fill="#02020e"/>
<rect x="543.49" y="899.05" width="24.87" height="24.87" fill="#030210"/>
<rect x="567.76" y="899.05" width="24.87" height="24.87" fill="#040312"/>
<rect x="592.02" y="899.05" width="27.90" height="24.87" fill="#09061f"/>
<rect x="619.32" y="899.05" width="24.87" height="24.87" fill="#110a30"/>
<rect x="643.59" y="899.05" width="24.87" height="24.87" fill="#1b0c41"/>
<rect x="667.86" y="899.05" width="27.90" height="24.87" fill="#230c4c"/>
<rect x="695.16" y="899.05" width="49.13" height="24.87" fill="#1e0c45"/>
<rect x="743.69" y="899.05" width="27.90" height="24.87" fill="#240c4f"/>
<rect x="770.99" y="899.05" width="24.87" height="24.87" fill="#320a5e"/>
<rect x="795.26" y="899.05" width="24.87" height="24.87" fill="#540f6d"/>
<rect x="819.52" y="899.05" width="27.58" height="24.87" fill="#82206c"/>
<rect x="846.50" y="899.05" width="25.19" height="24.87" fill="#cf4446"/>
<rect x="871.09" y="899.05" width="24.87" height="24.87" fill="#f1731d"/>
<rect x="895.36" y="899.05" width="24.87" height="24.87" fill="#fc9f07"/>
<rect x="919.62" y="899.05" width="52.17" height="24.87" fill="#fcb014"/>
<rect x="971.19" y="899.05" width="24.87" height="24.87" fill="#fcaa0f"/>
<rect x="995.46" y="899.05" width="27.90" height="24.87" fill="#fc9f07"/>
<rect x="1022.76" y="899.05" width="24.87" height="24.87" fill="#f68013"/>
<rect x="1047.02" y="899.05" width="24.87" height="24.87" fill="#ed6925"/>
<rect x="1071.29" y="899.05" width="27.90" height="24.87" fill="#d04545"/>
<rect x="1098.59" y="899.05" width="24.87" height="24.87" fill="#a92e5e"/>
<rect x="1122.86" y="899.05" width="24.87" height="24.87" fill="#82206c"/>
<rect x="1147.12" y="899.05" width="24.87" height="24.87" fill="#69166e"/>
<rect x="1171.39" y="899.05" width="27.90" height="24.87" fill="#510e6c"/>
<rect x="1198.69" y="899.05" width="24.87" height="24.87" fill="#3d0965"/>
<rect x="1222.96" y="899.05" width="24.87" height="24.87" fill="#2f0a5b"/>
<rect x="1247.22" y="899.05" width="27.90" height="24.87" fill="#1f0c48"/>
<rect x="1274.52" y="899.05" width="49.13" height="24.87" fill="#180c3c"/>
<rect x="1323.06" y="899.05" width="27.90" height="24.87" fill="#120a32"/>
<rect x="1350.36" y="899.05" width="24.87" height="24.87" fill="#0e092b"/>
<rect x="1374.62" y="899.05" width="124.97" height="24.87" fill="#0d0829"/>
<rect x="340.26" y="923.31" width="27.90" height="27.90" fill="#1c0c43"/>
<rect x="367.56" y="923.31" width="24.87" height="27.90" fill="#120a32"/>
<rect x="391.82" y="923.31" width="24.87" height="27.90" fill="#0b0724"/>
<rect x="416.09" y="923.31" width="27.90" height="27.90" fill="#060419"/>
<rect x="443.39" y="923.31" width="24.87" height="27.90" fill="#040314"/>
<rect x="467.66" y="923.31" width="24.87" height="27.90" fill="#040312"/>
<rect x="491.92" y="923.31" width="76.43" height="27.90" fill="#030210"/>
<rect x="567.76" y="923.31" width="24.87" height="27.90" fill="#040312"/>
<rect x="592.02" y="923.31" width="27.90" height="27.90" fill="#08051d"/>
<rect x="619.32" y="923.31" width="24.87" height="27.90" fill="#10092d"/>
<rect x="643.59" y="923.31" width="24.87" height="27.90" fill="#180c3c"/>
<rect x="667.86" y="923.31" width="27.90" height="27.90" fill="#1e0c45"/>
<rect x="695.16" y="923.31" width="49.13" height="27.90" fill="#190c3e"/>
<rect x="743.69" y="923.31" width="27.90" height="27.90" fill="#1f0c48"/>
<rect x="770.99" y="923.31" width="24.87" height="27.90" fill="#280b53"/>
<rect x="795.26" y="923.31" width="24.87" height="27.90" fill="#380962"/>
<rect x="819.52" y="923.31" width="27.58" height="27.90" fill="#540f6d"/>
<rect x="846.50" y="923.31" width="25.19" height="27.90" fill="#7d1e6d"/>
<rect x="871.09" y="923.31" width="24.87" height="27.90" fill="#a52c60"/>
<rect x="895.36" y="923.31" width="24.87" height="27.90" fill="#bf3952"/>
<rect x="919.62" y="923.31" width="27.90" height="27.90" fill="#ce4347"/>
<rect x="946.92" y="923.31" width="49.13" height="27.90" fill="#cf4446"/>
<rect x="995.46" y="923.31" width="27.90" height="27.90" fill="#c73e4c"/>
<rect x="1022.76" y="923.31" width="24.87" height="27.90" fill="#b63458"/>
<rect x="1047.02" y="923.31" width="24.87" height="27.90" fill="#9d2964"/>
<rect x="1071.29" y="923.31" width="27.90" height="27.90" fill="#82206c"/>
<rect x="1098.59" y="923.31" width="24.87" height="27.90" fill="#69166e"/>
<rect x="1122.86" y="923.31" width="24.87" height="27.90" fill="#5a116e"/>
<rect x="1147.12" y="923.31" width="24.87" height="27.90" fill="#4c0c6b"/>
<rect x="1171.39" y="923.31" width="27.90" height="27.90" fill="#440a68"/>
<rect x="1198.69" y="923.31" width="24.87" height="27.90" fill="#3d0965"/>
<rect x="1222.96" y="923.31" width="24.87" height="27.90" fill="#360961"/>
<rect x="1247.22" y="923.31" width="27.90" height="27.90" fill="#290b55"/>
<rect x="1274.52" y="923.31" width="24.87" height="27.90" fill="#240c4f"/>
<rect x="1298.79" y="923.31" width="24.87" height="27.90" fill="#210c4a"/>
<rect x="1323.06" y="923.31" width="27.90" height="27.90" fill="#1c0c43"/>
<rect x="1350.36" y="923.31" width="24.87" height="27.90" fill="#190c3e"/>
<rect x="1374.62" y="923.31" width="24.87" height="27.90" fill="#160b39"/>
<rect x="1398.89" y="923.31" width="24.87" height="27.90" fill="#150b37"/>
<rect x="1423.16" y="923.31" width="76.43" height="27.90" fill="#140b34"/>
<rect x="340.26" y="950.61" width="27.90" height="24.87" fill="#210c4a"/>
<rect x="367.56" y="950.61" width="24.87" height="24.87" fill="#180c3c"/>
<rect x="391.82" y="950.61" width="24.87" height="24.87" fill="#120a32"/>
<rect x="416.09" y="950.61" width="27.90" height="24.87" fill="#0e092b"/>
<rect x="443.39" y="950.61" width="49.13" height="24.87" fill="#0c0826"/>
<rect x="491.92" y="950.61" width="76.43" height="24.87" fill="#0b0724"/>
<rect x="567.76" y="950.61" width="24.87" height="24.87" fill="#0c0826"/>
<rect x="592.02" y="950.61" width="27.90" height="24.87" fill="#10092d"/>
<rect x="619.32" y="950.61" width="24.87" height="24.87" fill="#150b37"/>
<rect x="643.59" y="950.61" width="24.87" height="24.87" fill="#1b0c41"/>
<rect x="667.86" y="950.61" width="27.90" height="24.87" fill="#1e0c45"/>
<rect x="695.16" y="950.61" width="49.13" height="24.87" fill="#190c3e"/>
<rect x="743.69" y="950.61" width="27.90" height="24.87" fill="#1b0c41"/>
<rect x="770.99" y="950.61" width="24.87" height="24.87" fill="#1f0c48"/>
<rect x="795.26" y="950.61" width="24.87" height="24.87" fill="#290b55"/>
<rect x="819.52" y="950.61" width="27.58" height="24.87" fill="#320a5e"/>
<rect x="846.50" y="950.61" width="25.19" height="24.87" fill="#440a68"/>
<rect x="871.09" y="950.61" width="24.87" height="24.87" fill="#510e6c"/>
<rect x="895.36" y="950.61" width="24.87" height="24.87" fill="#5f136e"/>
<rect x="919.62" y="950.61" width="27.90" height="24.87" fill="#65156e"/>
<rect x="946.92" y="950.61" width="49.13" height="24.87" fill="#67166e"/>
<rect x="995.46" y="950.61" width="27.90" height="24.87" fill="#65156e"/>
<rect x="1022.76" y="950.61" width="24.87" height="24.87" fill="#5f136e"/>
<rect x="1047.02" y="950.61" width="24.87" height="24.87" fill="#540f6d"/>
<rect x="1071.29" y="950.61" width="27.90" height="24.87" fill="#510e6c"/>
<rect x="1098.59" y="950.61" width="49.13" height="24.87" fill="#4c0c6b"/>
<rect x="1147.12" y="950.61" width="24.87" height="24.87" fill="#470b6a"/>
<rect x="1171.39" y="950.61" width="27.90" height="24.87" fill="#440a68"/>
<rect x="1198.69" y="950.61" width="24.87" height="24.87" fill="#420a68"/>
<rect x="1222.96" y="950.61" width="24.87" height="24.87" fill="#400a67"/>
<rect x="1247.22" y="950.61" width="52.17" height="24.87" fill="#3d0965"/>
<rect x="1298.79" y="950.61" width="24.87" height="24.87" fill="#320a5e"/>
<rect x="1323.06" y="950.61" width="27.90" height="24.87" fill="#2f0a5b"/>
<rect x="1350.36" y="950.61" width="24.87" height="24.87" fill="#2b0b57"/>
<rect x="1374.62" y="950.61" width="24.87" height="24.87" fill="#290b55"/>
<rect x="1398.89" y="950.61" width="24.87" height="24.87" fill="#280b53"/>
<rect x="1423.16" y="950.61" width="27.90" height="24.87" fill="#260c51"/>
<rect x="1450.46" y="950.61" width="49.13" height="24.87" fill="#240c4f"/>
<rect x="340.26" y="974.88" width="27.90" height="24.87" fill="#2f0a5b"/>
<rect x="367.56" y="974.88" width="24.87" height="24.87" fill="#280b53"/>
<rect x="391.82" y="974.88" width="24.87" height="24.87" fill="#210c4a"/>
<rect x="416.09" y="974.88" width="27.90" height="24.87" fill="#1e0c45"/>
<rect x="443.39" y="974.88" width="252.37" height="24.87" fill="#1b0c41"/>
<rect x="695.16" y="974.88" width="151.94" height="24.87" fill="#190c3e"/>
<rect x="846.50" y="974.88" width="101.02" height="24.87" fill="#230c4c"/>
<rect x="946.92" y="974.88" width="49.13" height="24.87" fill="#290b55"/>
<rect x="995.46" y="974.88" width="27.90" height="24.87" fill="#2f0a5b"/>
<rect x="1022.76" y="974.88" width="24.87" height="24.87" fill="#380962"/>
<rect x="1047.02" y="974.88" width="24.87" height="24.87" fill="#3d0965"/>
<rect x="1071.29" y="974.88" width="27.90" height="24.87" fill="#440a68"/>
<rect x="1098.59" y="974.88" width="49.13" height="24.87" fill="#470b6a"/>
<rect x="1147.12" y="974.88" width="52.17" height="24.87" fill="#4c0c6b"/>
<rect x="1198.69" y="974.88" width="24.87" height="24.87" fill="#510e6c"/>
<rect x="1222.96" y="974.88" width="24.87" height="24.87" fill="#520e6d"/>
<rect x="1247.22" y="974.88" width="52.17" height="24.87" fill="#540f6d"/>
<rect x="1298.79" y="974.88" width="52.17" height="24.87" fill="#4a0c6b"/>
<rect x="1350.36" y="974.88" width="49.13" height="24.87" fill="#490b6a"/>
<rect x="1398.89" y="974.88" width="24.87" height="24.87" fill="#470b6a"/>
<rect x="1423.16" y="974.88" width="27.90" height="24.87" fill="#440a68"/>
<rect x="1450.46" y="974.88" width="24.87" height="24.87" fill="#400a67"/>
<rect x="1474.72" y="974.88" width="24.87" height="24.87" fill="#3d0965"/>
<rect x="340.26" y="999.15" width="27.90" height="24.87" fill="#470b6a"/>
<rect x="367.56" y="999.15" width="24.87" height="24.87" fill="#420a68"/>
<rect x="391.82" y="999.15" width="24.87" height="24.87" fill="#3e0966"/>
<rect x="416.09" y="999.15" width="27.90" height="24.87" fill="#3b0964"/>
<rect x="443.39" y="999.15" width="49.13" height="24.87" fill="#380962"/>
<rect x="491.92" y="999.15" width="52.17" height="24.87" fill="#360961"/>
<rect x="543.49" y="999.15" width="24.87" height="24.87" fill="#340a5f"/>
<rect x="567.76" y="999.15" width="24.87" height="24.87" fill="#310a5c"/>
<rect x="592.02" y="999.15" width="27.90" height="24.87" fill="#290b55"/>
<rect x="619.32" y="999.15" width="24.87" height="24.87" fill="#210c4a"/>
<rect x="643.59" y="999.15" width="24.87" height="24.87" fill="#1c0c43"/>
<rect x="667.86" y="999.15" width="27.90" height="24.87" fill="#190c3e"/>
<rect x="695.16" y="999.15" width="24.87" height="24.87" fill="#160b39"/>
<rect x="719.42" y="999.15" width="24.87" height="24.87" fill="#150b37"/>
<rect x="743.69" y="999.15" width="76.43" height="24.87" fill="#140b34"/>
<rect x="819.52" y="999.15" width="27.58" height="24.87" fill="#150b37"/>
<rect x="846.50" y="999.15" width="25.19" height="24.87" fill="#160b39"/>
<rect x="871.09" y="999.15" width="24.87" height="24.87" fill="#180c3c"/>
<rect x="895.36" y="999.15" width="24.87" height="24.87" fill="#1b0c41"/>
<rect x="919.62" y="999.15" width="27.90" height="24.87" fill="#1e0c45"/>
<rect x="946.92" y="999.15" width="24.87" height="24.87" fill="#230c4c"/>
<rect x="971.19" y="999.15" width="24.87" height="24.87" fill="#280b53"/>
<rect x="995.46" y="999.15" width="27.90" height="24.87" fill="#310a5c"/>
<rect x="1022.76" y="999.15" width="24.87" height="24.87" fill="#3b0964"/>
<rect x="1047.02" y="999.15" width="24.87" height="24.87" fill="#440a68"/>
<rect x="1071.29" y="999.15" width="27.90" height="24.87" fill="#490b6a"/>
<rect x="1098.59" y="999.15" width="24.87" height="24.87" fill="#4c0c6b"/>
<rect x="1122.86" y="999.15" width="24.87" height="24.87" fill="#4f0d6c"/>
<rect x="1147.12" y="999.15" width="52.17" height="24.87" fill="#520e6d"/>
<rect x="1198.69" y="999.15" width="176.53" height="24.87" fill="#540f6d"/>
<rect x="1374.62" y="999.15" width="24.87" height="24.87" fill="#520e6d"/>
<rect x="1398.89" y="999.15" width="24.87" height="24.87" fill="#510e6c"/>
<rect x="1423.16" y="999.15" width="27.90" height="24.87" fill="#4d0d6c"/>
<rect x="1450.46" y="999.15" width="24.87" height="24.87" fill="#4a0c6b"/>
<rect x="1474.72" y="999.15" width="24.87" height="24.87" fill="#450a69"/>
<rect x="340.26" y="1023.41" width="27.90" height="27.90" fill="#510e6c"/>
<rect x="367.56" y="1023.41" width="24.87" height="27.90" fill="#4f0d6c"/>
<rect x="391.82" y="1023.41" width="52.17" height="27.90" fill="#4d0d6c"/>
<rect x="443.39" y="1023.41" width="24.87" height="27.90" fill="#4c0c6b"/>
<rect x="467.66" y="1023.41" width="24.87" height="27.90" fill="#4a0c6b"/>
<rect x="491.92" y="1023.41" width="27.90" height="27.90" fill="#490b6a"/>
<rect x="519.22" y="1023.41" width="24.87" height="27.90" fill="#470b6a"/>
<rect x="543.49" y="1023.41" width="24.87" height="27.90" fill="#450a69"/>
<rect x="567.76" y="1023.41" width="24.87" height="27.90" fill="#3e0966"/>
<rect x="592.02" y="1023.41" width="27.90" height="27.90" fill="#320a5e"/>
<rect x="619.32" y="1023.41" width="24.87" height="27.90" fill="#240c4f"/>
<rect x="643.59" y="1023.41" width="24.87" height="27.90" fill="#190c3e"/>
<rect x="667.86" y="1023.41" width="27.90" height="27.90" fill="#120a32"/>
<rect x="695.16" y="1023.41" width="24.87" height="27.90" fill="#0c0826"/>
<rect x="719.42" y="1023.41" width="24.87" height="27.90" fill="#08051d"/>
<rect x="743.69" y="1023.41" width="27.90" height="27.90" fill="#040314"/>
<rect x="770.99" y="1023.41" width="24.87" height="27.90" fill="#030210"/>
<rect x="795.26" y="1023.41" width="24.87" height="27.90" fill="#02020c"/>
<rect x="819.52" y="1023.41" width="27.58" height="27.90" fill="#02010a"/>
<rect x="846.50" y="1023.41" width="25.19" height="27.90" fill="#010108"/>
<rect x="871.09" y="1023.41" width="24.87" height="27.90" fill="#02010a"/>
<rect x="895.36" y="1023.41" width="24.87" height="27.90" fill="#040312"/>
<rect x="919.62" y="1023.41" width="27.90" height="27.90" fill="#09061f"/>
<rect x="946.92" y="1023.41" width="24.87" height="27.90" fill="#120a32"/>
<rect x="971.19" y="1023.41" width="24.87" height="27.90" fill="#1c0c43"/>
<rect x="995.46" y="1023.41" width="27.90" height="27.90" fill="#2f0a5b"/>
<rect x="1022.76" y="1023.41" width="24.87" height="27.90" fill="#420a68"/>
<rect x="1047.02" y="1023.41" width="24.87" height="27.90" fill="#510e6c"/>
<rect x="1071.29" y="1023.41" width="27.90" height="27.90" fill="#57106e"/>
<rect x="1098.59" y="1023.41" width="24.87" height="27.90" fill="#5c126e"/>
<rect x="1122.86" y="1023.41" width="24.87" height="27.90" fill="#5f136e"/>
<rect x="1147.12" y="1023.41" width="52.17" height="27.90" fill="#62146e"/>
<rect x="1198.69" y="1023.41" width="24.87" height="27.90" fill="#61136e"/>
<rect x="1222.96" y="1023.41" width="24.87" height="27.90" fill="#5f136e"/>
<rect x="1247.22" y="1023.41" width="52.17" height="27.90" fill="#5d126e"/>
<rect x="1298.79" y="1023.41" width="76.43" height="27.90" fill="#5c126e"/>
<rect x="1374.62" y="1023.41" width="24.87" height="27.90" fill="#5a116e"/>
<rect x="1398.89" y="1023.41" width="24.87" height="27.90" fill="#59106e"/>
<rect x="1423.16" y="1023.41" width="27.90" height="27.90" fill="#550f6d"/>
<rect x="1450.46" y="1023.41" width="24.87" height="27.90" fill="#520e6d"/>
<rect x="1474.72" y="1023.41" width="24.87" height="27.90" fill="#4f0d6c"/>
<rect x="340.26" y="1050.71" width="76.43" height="24.87" fill="#59106e"/>
<rect x="416.09" y="1050.71" width="52.17" height="24.87" fill="#57106e"/>
<rect x="467.66" y="1050.71" width="24.87" height="24.87" fill="#550f6d"/>
<rect x="491.92" y="1050.71" width="27.90" height="24.87" fill="#520e6d"/>
<rect x="519.22" y="1050.71" width="24.87" height="24.87" fill="#510e6c"/>
<rect x="543.49" y="1050.71" width="24.87" height="24.87" fill="#4c0c6b"/>
<rect x="567.76" y="1050.71" width="24.87" height="24.87" fill="#450a69"/>
<rect x="592.02" y="1050.71" width="27.90" height="24.87" fill="#380962"/>
<rect x="619.32" y="1050.71" width="24.87" height="24.87" fill="#260c51"/>
<rect x="643.59" y="1050.71" width="24.87" height="24.87" fill="#190c3e"/>
<rect x="667.86" y="1050.71" width="27.90" height="24.87" fill="#110a30"/>
<rect x="695.16" y="1050.71" width="24.87" height="24.87" fill="#0b0724"/>
<rect x="719.42" y="1050.71" width="24.87" height="24.87" fill="#060419"/>
<rect x="743.69" y="1050.71" width="27.90" height="24.87" fill="#030210"/>
<rect x="770.99" y="1050.71" width="24.87" height="24.87" fill="#010108"/>
<rect x="795.26" y="1050.71" width="124.97" height="24.87" fill="#000004"/>
<rect x="919.62" y="1050.71" width="27.90" height="24.87" fill="#040314"/>
<rect x="946.92" y="1050.71" width="24.87" height="24.87" fill="#0d0829"/>
<rect x="971.19" y="1050.71" width="24.87" height="24.87" fill="#1b0c41"/>
<rect x="995.46" y="1050.71" width="27.90" height="24.87" fill="#310a5c"/>
<rect x="1022.76" y="1050.71" width="24.87" height="24.87" fill="#4a0c6b"/>
<rect x="1047.02" y="1050.71" width="24.87" height="24.87" fill="#59106e"/>
<rect x="1071.29" y="1050.71" width="27.90" height="24.87" fill="#5f136e"/>
<rect x="1098.59" y="1050.71" width="24.87" height="24.87" fill="#62146e"/>
<rect x="1122.86" y="1050.71" width="49.13" height="24.87" fill="#64156e"/>
<rect x="1171.39" y="1050.71" width="27.90" height="24.87" fill="#65156e"/>
<rect x="1198.69" y="1050.71" width="49.13" height="24.87" fill="#64156e"/>
<rect x="1247.22" y="1050.71" width="52.17" height="24.87" fill="#62146e"/>
<rect x="1298.79" y="1050.71" width="24.87" height="24.87" fill="#61136e"/>
<rect x="1323.06" y="1050.71" width="52.17" height="24.87" fill="#5f136e"/>
<rect x="1374.62" y="1050.71" width="24.87" height="24.87" fill="#5d126e"/>
<rect x="1398.89" y="1050.71" width="24.87" height="24.87" fill="#5c126e"/>
<rect x="1423.16" y="1050.71" width="27.90" height="24.87" fill="#59106e"/>
<rect x="1450.46" y="1050.71" width="24.87" height="24.87" fill="#550f6d"/>
<rect x="1474.72" y="1050.71" width="24.87" height="24.87" fill="#520e6d"/>
<rect x="340.26" y="1074.98" width="76.43" height="24.87" fill="#5d126e"/>
<rect x="416.09" y="1074.98" width="27.90" height="24.87" fill="#5c126e"/>
<rect x="443.39" y="1074.98" width="24.87" height="24.87" fill="#5a116e"/>
<rect x="467.66" y="1074.98" width="24.87" height="24.87" fill="#59106e"/>
<rect x="491.92" y="1074.98" width="27.90" height="24.87" fill="#550f6d"/>
<rect x="519.22" y="1074.98" width="24.87" height="24.87" fill="#520e6d"/>
<rect x="543.49" y="1074.98" width="24.87" height="24.87" fill="#4c0c6b"/>
<rect x="567.76" y="1074.98" width="24.87" height="24.87" fill="#450a69"/>
<rect x="592.02" y="1074.98" width="27.90" height="24.87" fill="#390963"/>
<rect x="619.32" y="1074.98" width="24.87" height="24.87" fill="#2b0b57"/>
<rect x="643.59" y="1074.98" width="24.87" height="24.87" fill="#1f0c48"/>
<rect x="667.86" y="1074.98" width="27.90" height="24.87" fill="#160b39"/>
<rect x="695.16" y="1074.98" width="24.87" height="24.87" fill="#10092d"/>
<rect x="719.42" y="1074.98" width="24.87" height="24.87" fill="#0a0722"/>
<rect x="743.69" y="1074.98" width="27.90" height="24.87" fill="#050417"/>
<rect x="770.99" y="1074.98" width="24.87" height="24.87" fill="#02020c"/>
<rect x="795.26" y="1074.98" width="24.87" height="24.87" fill="#010005"/>
<rect x="819.52" y="1074.98" width="76.43" height="24.87" fill="#000004"/>
<rect x="895.36" y="1074.98" width="24.87" height="24.87" fill="#010005"/>
<rect x="919.62" y="1074.98" width="27.90" height="24.87" fill="#060419"/>
<rect x="946.92" y="1074.98" width="24.87" height="24.87" fill="#110a30"/>
<rect x="971.19" y="1074.98" width="24.87" height="24.87" fill="#1e0c45"/>
<rect x="995.46" y="1074.98" width="27.90" height="24.87" fill="#320a5e"/>
<rect x="1022.76" y="1074.98" width="24.87" height="24.87" fill="#470b6a"/>
<rect x="1047.02" y="1074.98" width="24.87" height="24.87" fill="#540f6d"/>
<rect x="1071.29" y="1074.98" width="52.17" height="24.87" fill="#57106e"/>
<rect x="1122.86" y="1074.98" width="100.70" height="24.87" fill="#59106e"/>
<rect x="1222.96" y="1074.98" width="52.17" height="24.87" fill="#57106e"/>
<rect x="1274.52" y="1074.98" width="176.53" height="24.87" fill="#550f6d"/>
<rect x="1450.46" y="1074.98" width="24.87" height="24.87" fill="#540f6d"/>
<rect x="1474.72" y="1074.98" width="24.87" height="24.87" fill="#520e6d"/>
<rect x="340.26" y="1099.25" width="76.43" height="27.90" fill="#5d126e"/>
<rect x="416.09" y="1099.25" width="27.90" height="27.90" fill="#5c126e"/>
<rect x="443.39" y="1099.25" width="24.87" height="27.90" fill="#5a116e"/>
<rect x="467.66" y="1099.25" width="24.87" height="27.90" fill="#59106e"/>
<rect x="491.92" y="1099.25" width="27.90" height="27.90" fill="#550f6d"/>
<rect x="519.22" y="1099.25" width="24.87" height="27.90" fill="#510e6c"/>
<rect x="543.49" y="1099.25" width="24.87" height="27.90" fill="#4c0c6b"/>
<rect x="567.76" y="1099.25" width="24.87" height="27.90" fill="#470b6a"/>
<rect x="592.02" y="1099.25" width="27.90" height="27.90" fill="#400a67"/>
<rect x="619.32" y="1099.25" width="24.87" height="27.90" fill="#380962"/>
<rect x="643.59" y="1099.25" width="24.87" height="27.90" fill="#310a5c"/>
<rect x="667.86" y="1099.25" width="27.90" height="27.90" fill="#280b53"/>
<rect x="695.16" y="1099.25" width="24.87" height="27.90" fill="#1f0c48"/>
<rect x="719.42" y="1099.25" width="24.87" height="27.90" fill="#160b39"/>
<rect x="743.69" y="1099.25" width="27.90" height="27.90" fill="#110a30"/>
<rect x="770.99" y="1099.25" width="24.87" height="27.90" fill="#0d0829"/>
<rect x="795.26" y="1099.25" width="24.87" height="27.90" fill="#0a0722"/>
<rect x="819.52" y="1099.25" width="27.58" height="27.90" fill="#08051d"/>
<rect x="846.50" y="1099.25" width="25.19" height="27.90" fill="#060419"/>
<rect x="871.09" y="1099.25" width="24.87" height="27.90" fill="#07051b"/>
<rect x="895.36" y="1099.25" width="24.87" height="27.90" fill="#0c0826"/>
<rect x="919.62" y="1099.25" width="27.90" height="27.90" fill="#150b37"/>
<rect x="946.92" y="1099.25" width="24.87" height="27.90" fill="#1f0c48"/>
<rect x="971.19" y="1099.25" width="24.87" height="27.90" fill="#290b55"/>
<rect x="995.46" y="1099.25" width="27.90" height="27.90" fill="#340a5f"/>
<rect x="1022.76" y="1099.25" width="24.87" height="27.90" fill="#3e0966"/>
<rect x="1047.02" y="1099.25" width="24.87" height="27.90" fill="#450a69"/>
<rect x="1071.29" y="1099.25" width="27.90" height="27.90" fill="#470b6a"/>
<rect x="1098.59" y="1099.25" width="24.87" height="27.90" fill="#490b6a"/>
<rect x="1122.86" y="1099.25" width="24.87" height="27.90" fill="#4a0c6b"/>
<rect x="1147.12" y="1099.25" width="52.17" height="27.90" fill="#4c0c6b"/>
<rect x="1198.69" y="1099.25" width="24.87" height="27.90" fill="#4a0c6b"/>
<rect x="1222.96" y="1099.25" width="24.87" height="27.90" fill="#490b6a"/>
<rect x="1247.22" y="1099.25" width="176.53" height="27.90" fill="#470b6a"/>
<rect x="1423.16" y="1099.25" width="27.90" height="27.90" fill="#490b6a"/>
<rect x="1450.46" y="1099.25" width="24.87" height="27.90" fill="#4a0c6b"/>
<rect x="1474.72" y="1099.25" width="24.87" height="27.90" fill="#4c0c6b"/>
<rect x="340.26" y="1126.55" width="76.43" height="24.87" fill="#5a116e"/>
<rect x="416.09" y="1126.55" width="27.90" height="24.87" fill="#59106e"/>
<rect x="443.39" y="1126.55" width="24.87" height="24.87" fill="#57106e"/>
<rect x="467.66" y="1126.55" width="24.87" height="24.87" fill="#550f6d"/>
<rect x="491.92" y="1126.55" width="27.90" height="24.87" fill="#520e6d"/>
<rect x="519.22" y="1126.55" width="24.87" height="24.87" fill="#4d0d6c"/>
<rect x="543.49" y="1126.55" width="24.87" height="24.87" fill="#4a0c6b"/>
<rect x="567.76" y="1126.55" width="24.87" height="24.87" fill="#450a69"/>
<rect x="592.02" y="1126.55" width="27.90" height="24.87" fill="#400a67"/>
<rect x="619.32" y="1126.55" width="24.87" height="24.87" fill="#390963"/>
<rect x="643.59" y="1126.55" width="24.87" height="24.87" fill="#340a5f"/>
<rect x="667.86" y="1126.55" width="27.90" height="24.87" fill="#310a5c"/>
<rect x="695.16" y="1126.55" width="24.87" height="24.87" fill="#2b0b57"/>
<rect x="719.42" y="1126.55" width="24.87" height="24.87" fill="#280b53"/>
<rect x="743.69" y="1126.55" width="27.90" height="24.87" fill="#240c4f"/>
<rect x="770.99" y="1126.55" width="24.87" height="24.87" fill="#230c4c"/>
<rect x="795.26" y="1126.55" width="51.84" height="24.87" fill="#210c4a"/>
<rect x="846.50" y="1126.55" width="25.19" height="24.87" fill="#1f0c48"/>
<rect x="871.09" y="1126.55" width="24.87" height="24.87" fill="#210c4a"/>
<rect x="895.36" y="1126.55" width="24.87" height="24.87" fill="#240c4f"/>
<rect x="919.62" y="1126.55" width="27.90" height="24.87" fill="#2b0b57"/>
<rect x="946.92" y="1126.55" width="24.87" height="24.87" fill="#310a5c"/>
<rect x="971.19" y="1126.55" width="24.87" height="24.87" fill="#360961"/>
<rect x="995.46" y="1126.55" width="27.90" height="24.87" fill="#3b0964"/>
<rect x="1022.76" y="1126.55" width="24.87" height="24.87" fill="#3e0966"/>
<rect x="1047.02" y="1126.55" width="52.17" height="24.87" fill="#420a68"/>
<rect x="1098.59" y="1126.55" width="49.13" height="24.87" fill="#400a67"/>
<rect x="1147.12" y="1126.55" width="24.87" height="24.87" fill="#3e0966"/>
<rect x="1171.39" y="1126.55" width="27.90" height="24.87" fill="#3d0965"/>
<rect x="1198.69" y="1126.55" width="24.87" height="24.87" fill="#3b0964"/>
<rect x="1222.96" y="1126.55" width="24.87" height="24.87" fill="#390963"/>
<rect x="1247.22" y="1126.55" width="52.17" height="24.87" fill="#380962"/>
<rect x="1298.79" y="1126.55" width="24.87" height="24.87" fill="#390963"/>
<rect x="1323.06" y="1126.55" width="27.90" height="24.87" fill="#3b0964"/>
<rect x="1350.36" y="1126.55" width="49.13" height="24.87" fill="#3d0965"/>
<rect x="1398.89" y="1126.55" width="24.87" height="24.87" fill="#3e0966"/>
<rect x="1423.16" y="1126.55" width="52.17" height="24.87" fill="#400a67"/>
<rect x="1474.72" y="1126.55" width="24.87" height="24.87" fill="#420a68"/>
<rect x="340.26" y="1150.81" width="152.27" height="24.87" fill="#520e6d"/>
<rect x="491.92" y="1150.81" width="27.90" height="24.87" fill="#4f0d6c"/>
<rect x="519.22" y="1150.81" width="24.87" height="24.87" fill="#4c0c6b"/>
<rect x="543.49" y="1150.81" width="24.87" height="24.87" fill="#490b6a"/>
<rect x="567.76" y="1150.81" width="24.87" height="24.87" fill="#470b6a"/>
<rect x="592.02" y="1150.81" width="27.90" height="24.87" fill="#440a68"/>
<rect x="619.32" y="1150.81" width="24.87" height="24.87" fill="#400a67"/>
<rect x="643.59" y="1150.81" width="24.87" height="24.87" fill="#3d0965"/>
<rect x="667.86" y="1150.81" width="27.90" height="24.87" fill="#3b0964"/>
<rect x="695.16" y="1150.81" width="49.13" height="24.87" fill="#390963"/>
<rect x="743.69" y="1150.81" width="52.17" height="24.87" fill="#380962"/>
<rect x="795.26" y="1150.81" width="24.87" height="24.87" fill="#390963"/>
<rect x="819.52" y="1150.81" width="27.58" height="24.87" fill="#3b0964"/>
<rect x="846.50" y="1150.81" width="25.19" height="24.87" fill="#3d0965"/>
<rect x="871.09" y="1150.81" width="24.87" height="24.87" fill="#3e0966"/>
<rect x="895.36" y="1150.81" width="24.87" height="24.87" fill="#420a68"/>
<rect x="919.62" y="1150.81" width="27.90" height="24.87" fill="#440a68"/>
<rect x="946.92" y="1150.81" width="152.27" height="24.87" fill="#470b6a"/>
<rect x="1098.59" y="1150.81" width="49.13" height="24.87" fill="#450a69"/>
<rect x="1147.12" y="1150.81" width="24.87" height="24.87" fill="#440a68"/>
<rect x="1171.39" y="1150.81" width="27.90" height="24.87" fill="#420a68"/>
<rect x="1198.69" y="1150.81" width="24.87" height="24.87" fill="#3e0966"/>
<rect x="1222.96" y="1150.81" width="24.87" height="24.87" fill="#3b0964"/>
<rect x="1247.22" y="1150.81" width="27.90" height="24.87" fill="#390963"/>
<rect x="1274.52" y="1150.81" width="24.87" height="24.87" fill="#380962"/>
<rect x="1298.79" y="1150.81" width="24.87" height="24.87" fill="#390963"/>
<rect x="1323.06" y="1150.81" width="27.90" height="24.87" fill="#3b0964"/>
<rect x="1350.36" y="1150.81" width="49.13" height="24.87" fill="#3d0965"/>
<rect x="1398.89" y="1150.81" width="24.87" height="24.87" fill="#3e0966"/>
<rect x="1423.16" y="1150.81" width="52.17" height="24.87" fill="#400a67"/>
<rect x="1474.72" y="1150.81" width="24.87" height="24.87" fill="#420a68"/>
</g>
<ellipse cx="506.2" cy="135.4" rx="132" ry="76.1" transform="rotate(-7.5 506.2 135.4)" fill="#fff" fill-opacity="0.7"/>
<path d="M920.7 945 A102 102 0 0 0 953.82 939.47 A102 102 0 0 0 983.35 923.49 A102 102 0 0 0 1006.09 898.79 A102 102 0 0 0 1019.58 868.04 A102 102 0 0 0 1022.35 834.58 A102 102 0 0 0 1014.11 802.03 A102 102 0 0 0 995.74 773.92 A102 102 0 0 0 969.25 753.29 A102 102 0 0 0 937.49 742.39 A102 102 0 0 0 903.91 742.39 A102 102 0 0 0 872.15 753.29 A102 102 0 0 0 845.66 773.92 A102 102 0 0 0 827.29 802.03 A102 102 0 0 0 819.05 834.58 A102 102 0 0 0 821.82 868.04 A102 102 0 0 0 835.31 898.79 A102 102 0 0 0 858.05 923.49 A102 102 0 0 0 887.58 939.47 A102 102 0 0 0 920.70 945.00" fill="none" stroke="#17becf" stroke-width="16.67" stroke-dasharray="61.67 26.67"/>
<g fill="none" stroke="#2ca02c" stroke-width="4.8"><circle cx="865" cy="230" r="9.1"/><circle cx="957.9" cy="203.8" r="9.1"/><circle cx="1141.8" cy="211.6" r="9.1"/><circle cx="1162.4" cy="615" r="9.1"/><circle cx="730.8" cy="1039.5" r="9.1"/><circle cx="820.8" cy="1081.9" r="9.1"/><circle cx="1047" cy="712.5" r="9.1"/><circle cx="1072.5" cy="725" r="9.1"/><circle cx="913.5" cy="761.2" r="9.1"/><circle cx="943.7" cy="779.7" r="9.1"/><circle cx="866.8" cy="803.5" r="9.1"/><circle cx="881.1" cy="824.7" r="9.1"/><circle cx="923.2" cy="837" r="9.1"/><circle cx="929.6" cy="838.7" r="9.1"/><circle cx="925" cy="852.7" r="9.1"/><circle cx="935.8" cy="856" r="9.1"/><circle cx="937.8" cy="863.4" r="9.1"/><circle cx="949.8" cy="872" r="9.1"/><circle cx="960.5" cy="881.5" r="9.1"/><circle cx="973.2" cy="861" r="9.1"/><circle cx="983.6" cy="838.3" r="9.1"/><circle cx="997.5" cy="861" r="9.1"/><circle cx="908.5" cy="876" r="9.1"/><circle cx="862.4" cy="865.9" r="9.1"/><circle cx="887.1" cy="915.1" r="9.1"/><circle cx="989.8" cy="891.8" r="9.1"/><circle cx="1072" cy="821.2" r="9.1"/><circle cx="1092.8" cy="843.8" r="9.1"/></g>
<text x="732.4" y="635.6" font-size="84.3" fill="#00ffff">[CII] pointing</text>
<text x="706.4" y="210.3" font-size="84.3" fill="#fff">N1</text>
<text x="506.2" y="837.1" font-size="84.3" fill="#fff">Core</text>
<text x="381.8" y="1111.6" font-size="84.3" fill="#fff">10"</text>
<rect x="377.8" y="1134" width="132" height="6.25" fill="#fff"/>
<g fill="none" stroke="#fff" stroke-width="6.8" stroke-linejoin="round"><path d="M1000 665.2 L947.2 665.7 L897.8 668.1 L856.6 674.7 L815.4 685.4 L785.7 697.8 L765.9 709.3 L752.7 729.1 L741.2 753.8 L728 785.2 L716.5 809.9 L709.9 833 L709.1 861 L714.8 887.4 L733 913.7 L754.4 933.5 L782.4 951.6 L815.4 964.8 L848.3 974.7 L881.3 979.7 L914.3 981.3 L947.2 979.7 L980.2 976.4 L1000 970.6 L1024.7 960.7 L1049.5 951.6 L1082.4 936.8 L1115.4 920.3 L1148.3 902.2 L1181.3 885.7 L1214.3 869.2 L1247.2 852.7 L1268.7 837.9 L1276.9 828 L1283.5 809.9 L1280.2 791.8 L1270.3 772 L1253.8 752.2 L1230.8 734.1 L1197.8 717.6 L1164.8 704.4 L1131.9 692.9 L1098.9 683 L1065.9 674.7 L1033 668.1 Z"/><path d="M1000 702.5 L963.7 702.7 L930.8 704.4 L897.8 709.3 L864.8 719.2 L840.1 730.8 L818.7 745.6 L802.2 762.1 L787.4 781.9 L774.2 804.9 L764.3 828 L758.5 849.4 L759.3 865.9 L764.3 885.7 L779.1 907.1 L798.9 925.3 L823.6 938.5 L848.3 948.4 L881.3 955.8 L914.3 958.2 L947.2 956.6 L980.2 951.6 L1000 945 L1024.7 933.5 L1049.5 922 L1074.2 908.8 L1098.9 894 L1123.6 877.5 L1148.3 861 L1169.8 842.9 L1181.3 829.7 L1189.6 811.5 L1189.6 798.3 L1184.6 785.2 L1173.1 768.7 L1156.6 753.8 L1131.9 739 L1098.9 724.2 L1065.9 714.3 L1033 706.9 Z"/><path d="M1000 730.5 L963.7 730.8 L930.8 734.9 L897.8 744 L873.1 755.5 L848.3 772 L830.2 790.1 L815.4 808.2 L802.2 828 L791.5 849.4 L792.3 865.9 L798.9 885.7 L812.1 903.8 L831.9 920.3 L856.6 931.9 L881.3 937.6 L914.3 940.1 L947.2 937.6 L980.2 931.9 L1000 925.2 L1033 910.4 L1057.7 897.3 L1079.1 882.4 L1098.9 864.3 L1115.4 844.5 L1125.3 828 L1130.2 811.5 L1128.6 801.6 L1120.3 785.2 L1107.1 770.3 L1090.7 757.1 L1065.9 744.8 L1033 734.9 Z"/><path d="M1000 753.4 L963.7 753.8 L930.8 758.8 L906 767 L881.3 780.2 L861.5 795 L845 813.2 L831.9 831.3 L820.3 849.4 L822.8 869.2 L831.9 887.4 L848.3 903.8 L873.1 915.4 L897.8 921.2 L930.8 922 L963.7 917.9 L1000 906.3 L1016.5 895.6 L1037.9 882.4 L1057.7 865.9 L1072.5 847.8 L1082.4 831.3 L1089 811.5 L1080.8 796.7 L1069.2 781.9 L1049.5 768.7 L1024.7 758.8 Z"/><path d="M1000 775.8 L963.7 775.3 L939 780.2 L914.3 790.1 L889.6 804.9 L871.4 821.4 L848.3 849.4 L849.2 862.6 L858.2 879.1 L873.1 892.3 L897.8 900.5 L930.8 903.8 L963.7 900.5 L1000 889.8 L1009.9 880.8 L1024.7 869.2 L1039.6 852.7 L1049.5 833 L1051.1 828 L1051.1 814.8 L1046.2 804.9 L1033 791.8 L1016.5 781.9 Z"/><path d="M1000 801.6 L957.1 798.3 L930.8 803.3 L906 813.2 L892.9 826.4 L881.3 833 L880.5 854.4 L894.5 870.9 L914.3 882.4 L939 885.7 L963.7 882.4 L1000 865.9 L1009.9 852.7 L1018.1 834.6 L1009.9 813.2 Z"/><path d="M928.7 837 L958 832.1 L965.4 837 L958 845 L931.2 843.2 Z"/><path d="M956.9 122.4 L982.3 124.9 L1007.7 133.5 L1030.8 147.3 L1049.2 164.6 L1061.9 185.4 L1067.7 208.5 L1064.2 229.2 L1055 247.7 L1040 263.8 L1016.9 275.4 L989.2 285.8 L956.9 292.7 L929.2 297.3 L903.8 298.5 L880.8 296.2 L860 289.2 L846.2 273.1 L835.8 254.6 L830 233.8 L830 210.8 L836.9 190 L850.8 169.2 L869.2 150.8 L892.3 136.9 L920 126.5 Z"/><path d="M956.7 189.9 L932 195.9 L918.2 209.7 L931.4 233.3 L957.8 236 L985.3 210.2 L975.4 200.3 Z"/><path d="M806.9 382.8 L813.8 390.8 L819.6 411.6 L806.9 419.7 L793.1 409.3 L801.2 387.4 Z"/><path d="M1208.5 422 L1233.9 425.5 L1247.7 437 L1255.8 460.1 L1238.5 487.8 L1208.5 492.9 L1179.6 487.8 L1165.8 461.2 L1178.5 433.5 Z"/></g>
<g fill="none" stroke="#fff" stroke-width="6.8" stroke-dasharray="23.5 9.7" stroke-linejoin="round"><path d="M606.2 424.3 L629.2 435.8 L647.7 463.5 L659.2 488.9 L660.4 509.7 L652.3 525.8 L633.8 538.5 L606.2 542 L580.8 537.4 L569.2 521.2 L563.5 502.8 L565.8 482 L571.5 461.2 L583.1 442.8 L599.2 428.9 Z"/><path d="M985.8 464.7 L1000.8 482 L1007.7 500.5 L1010 521.2 L1005.4 535.1 L991.5 546.6 L973.1 555.8 L956.9 555.8 L940.8 547.8 L929.2 536.2 L936.2 521.2 L947.7 502.8 L963.8 484.3 L977.7 468.2 Z"/><path d="M1434.6 403.5 L1460 405.4 L1473.8 422 L1481.9 440.5 L1483.1 456.6 L1471.5 475.1 L1458.8 486.6 L1436.9 483.2 L1420.8 470.5 L1409.2 452 L1406.9 435.8 L1416.2 415.1 Z"/><path d="M1475.7 998.1 L1439 1003.7 L1399.2 1010.8 L1359.3 1018.8 L1327.5 1025.2 L1298.8 1029.1 L1271.7 1026.8 L1247.8 1021.2 L1230.3 1012.4 L1223.9 999.7 L1222.3 986.9 L1236.7 976.6 L1263.7 967 L1295.6 959.8 L1343.4 954.3 L1391.2 949.5 L1439 945.5 L1470.9 943.9 L1472.5 951.9"/><path d="M1330 30 L1336.1 35.2 L1358 46.3 L1377.5 46.8 L1400.7 36.5 L1412 30"/></g>
<g fill="none" stroke="#fff" stroke-width="6.6"><path d="M735.1 1102.9 A331.4 331.4 0 0 0 832.65 1152.49 A331.4 331.4 0 0 0 941.06 1167.57 A331.4 331.4 0 0 0 1048.48 1146.52 A331.4 331.4 0 0 0 1143.17 1091.62 A331.4 331.4 0 0 0 1214.82 1008.88 A331.4 331.4 0 0 0 1255.60 907.30 A331.4 331.4 0 0 0 1261.08 797.98 A331.4 331.4 0 0 0 1230.64 692.84 A331.4 331.4 0 0 0 1167.61 603.35 A331.4 331.4 0 0 0 1078.87 539.27 A331.4 331.4 0 0 0 974.10 507.60 A331.4 331.4 0 0 0 864.72 511.78 A331.4 331.4 0 0 0 762.67 551.36 A331.4 331.4 0 0 0 679.09 622.03 A331.4 331.4 0 0 0 623.08 716.07 A331.4 331.4 0 0 0 600.76 823.23 A331.4 331.4 0 0 0 614.56 931.81 A331.4 331.4 0 0 0 662.99 1029.98" stroke-dasharray="6.25 10.330"/><path d="M462.2 549 A550.6 550.6 0 0 1 584.65 409.01 A550.6 550.6 0 0 1 746.74 317.77 A550.6 550.6 0 0 1 929.97 285.70 A550.6 550.6 0 0 1 1113.42 316.48 A550.6 550.6 0 0 1 1276.15 406.59 A550.6 550.6 0 0 1 1399.59 545.74 A550.6 550.6 0 0 1 1469.65 718.06 A550.6 550.6 0 0 1 1478.34 903.87 A550.6 550.6 0 0 1 1424.65 1081.97 A550.6 550.6 0 0 1 1314.73 1232.03 A550.6 550.6 0 0 1 1161.11 1336.92 A550.6 550.6 0 0 1 981.33 1384.68 A550.6 550.6 0 0 1 795.91 1369.84 A550.6 550.6 0 0 1 626.01 1294.11 A550.6 550.6 0 0 1 491.02 1166.13 A550.6 550.6 0 0 1 406.35 1000.50 A550.6 550.6 0 0 1 381.67 816.13 A550.6 550.6 0 0 1 419.78 634.07" stroke-dasharray="6.25 10.293"/><path d="M1424 280.3 A742.5 742.5 0 0 0 1240.90 161.15 A742.5 742.5 0 0 0 1031.05 100.45 A742.5 742.5 0 0 0 812.62 103.44 A742.5 742.5 0 0 0 604.51 169.87 A742.5 742.5 0 0 0 424.74 293.99 A742.5 742.5 0 0 0 288.88 465.05" stroke-dasharray="6.25 10.323"/><path d="M364.4 75.8 A948.9 948.9 0 0 0 260.93 165.33" stroke-dasharray="6.25 10.093"/><path d="M1440.3 35.1 A948.9 948.9 0 0 1 1541.84 109.40" stroke-dasharray="6.25 10.853"/></g>
<text transform="translate(700.8 1068.8) rotate(44.4)" text-anchor="middle" y="15.4" font-size="42.3" fill="#fff">0.9</text>
<text transform="translate(436.8 589.2) rotate(-63.2)" text-anchor="middle" y="15.4" font-size="42.3" fill="#fff">0.7</text>
<text transform="translate(1459.5 311) rotate(46.5)" text-anchor="middle" y="15.4" font-size="42.3" fill="#fff">0.5</text>
<text transform="translate(401.8 44.5) rotate(-35.5)" text-anchor="middle" y="15.4" font-size="42.3" fill="#fff">0.3</text>
<path d="M392.9 1162 v-14.6 M703.1 1162 v-14.6 M703.1 34.8 v14.6 M1013.3 1162 v-14.6 M1013.3 34.8 v14.6 M1323.5 1162 v-14.6 M1323.5 34.8 v14.6 M356 37.6 h14.6 M1483.1 37.6 h-14.6 M356 288 h14.6 M1483.1 288 h-14.6 M356 538.5 h14.6 M1483.1 538.5 h-14.6 M356 789 h14.6 M1483.1 789 h-14.6 M356 1039.5 h14.6 M1483.1 1039.5 h-14.6" stroke="#fff" stroke-width="4.17" fill="none"/>
</g>
<rect x="356" y="34.8" width="1127.1" height="1127.2" fill="none" stroke="#000" stroke-width="3.33"/>
<text font-size="42.2" fill="#000"><tspan x="277.2" y="1206.8">23</tspan><tspan x="331.5" y="1190.3" font-size="29.5">h</tspan><tspan x="351.1" y="1206.8">49</tspan><tspan x="404.9" y="1190.3" font-size="29.5">m</tspan><tspan x="434.4" y="1206.8">48</tspan><tspan x="488.3" y="1190.3" font-size="29.5">s</tspan></text>
<text font-size="42.2" fill="#000"><tspan x="666.7" y="1206.8">45</tspan><tspan x="720.7" y="1190.3" font-size="29.5">s</tspan></text>
<text font-size="42.2" fill="#000"><tspan x="976.9" y="1206.8">42</tspan><tspan x="1030.9" y="1190.3" font-size="29.5">s</tspan></text>
<text font-size="42.2" fill="#000"><tspan x="1287.1" y="1206.8">39</tspan><tspan x="1341.1" y="1190.3" font-size="29.5">s</tspan></text>
<text x="342.2" y="50.1" text-anchor="end" font-size="42.2" fill="#000">−56°37'20&quot;</text>
<text x="342.2" y="300.5" text-anchor="end" font-size="42.2" fill="#000">40&quot;</text>
<text x="342.2" y="551" text-anchor="end" font-size="42.2" fill="#000">38'00&quot;</text>
<text x="342.2" y="801.5" text-anchor="end" font-size="42.2" fill="#000">20&quot;</text>
<text x="342.2" y="1052" text-anchor="end" font-size="42.2" fill="#000">40&quot;</text>
<text x="919.6" y="1299.7" text-anchor="middle" font-size="63.2" fill="#000">RA [J2000]</text>
<text transform="translate(48.8 598.4) rotate(-90)" text-anchor="middle" font-size="63.2" fill="#000">Dec [J2000]</text>
<rect x="1553.5" y="15.7" width="58.7" height="1165.6" fill="url(#cb)"/>
<path d="M1612.2 1051.8 h-14.6 M1612.2 922.3 h-14.6 M1612.2 792.8 h-14.6 M1612.2 663.3 h-14.6 M1612.2 533.7 h-14.6 M1612.2 404.2 h-14.6 M1612.2 274.7 h-14.6 M1612.2 145.2 h-14.6" stroke="#fff" stroke-width="4.17" fill="none"/>
<path d="M1612.2 1155.4 h-8.3 M1612.2 1129.5 h-8.3 M1612.2 1103.6 h-8.3 M1612.2 1077.7 h-8.3 M1612.2 1025.9 h-8.3 M1612.2 1000 h-8.3 M1612.2 974.1 h-8.3 M1612.2 948.2 h-8.3 M1612.2 896.4 h-8.3 M1612.2 870.5 h-8.3 M1612.2 844.6 h-8.3 M1612.2 818.7 h-8.3 M1612.2 766.9 h-8.3 M1612.2 741 h-8.3 M1612.2 715.1 h-8.3 M1612.2 689.2 h-8.3 M1612.2 637.4 h-8.3 M1612.2 611.5 h-8.3 M1612.2 585.5 h-8.3 M1612.2 559.6 h-8.3 M1612.2 507.8 h-8.3 M1612.2 481.9 h-8.3 M1612.2 456 h-8.3 M1612.2 430.1 h-8.3 M1612.2 378.3 h-8.3 M1612.2 352.4 h-8.3 M1612.2 326.5 h-8.3 M1612.2 300.6 h-8.3 M1612.2 248.8 h-8.3 M1612.2 222.9 h-8.3 M1612.2 197 h-8.3 M1612.2 171.1 h-8.3 M1612.2 119.3 h-8.3 M1612.2 93.4 h-8.3 M1612.2 67.5 h-8.3 M1612.2 41.6 h-8.3" stroke="#fff" stroke-width="2.6" fill="none"/>
<rect x="1553.5" y="15.7" width="58.7" height="1165.6" fill="none" stroke="#000" stroke-width="3.33"/>
<text x="1626.4" y="1196.9" font-size="42.2" fill="#000">−100</text>
<text x="1626.4" y="1067.4" font-size="42.2" fill="#000">−50</text>
<text x="1626.4" y="937.9" font-size="42.2" fill="#000">0</text>
<text x="1626.4" y="808.4" font-size="42.2" fill="#000">50</text>
<text x="1626.4" y="678.9" font-size="42.2" fill="#000">100</text>
<text x="1626.4" y="549.3" font-size="42.2" fill="#000">150</text>
<text x="1626.4" y="419.8" font-size="42.2" fill="#000">200</text>
<text x="1626.4" y="290.3" font-size="42.2" fill="#000">250</text>
<text x="1626.4" y="160.8" font-size="42.2" fill="#000">300</text>
<text x="1626.4" y="31.3" font-size="42.2" fill="#000">350</text>
<text transform="translate(1806.7 601.2) rotate(-90)" text-anchor="middle" font-size="63.2" fill="#000">Continuum [<tspan font-style="italic">μ</tspan>Jy/beam]</text>
</svg></body></html>
